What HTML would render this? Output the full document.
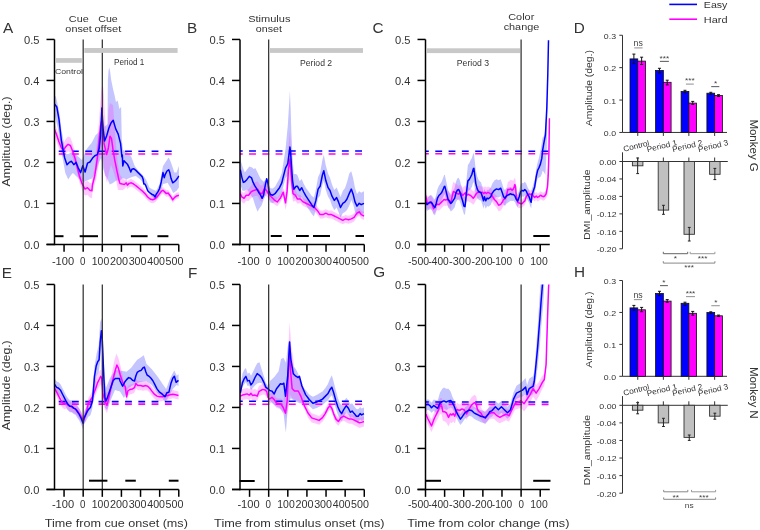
<!DOCTYPE html>
<html><head><meta charset="utf-8"><style>html,body{margin:0;padding:0;background:#fff;width:760px;height:530px;overflow:hidden} svg{will-change:transform}</style></head>
<body><svg width="760" height="530" viewBox="0 0 760 530" style="display:block">
<rect width="760" height="530" fill="#fff"/>
<g font-family='"Liberation Sans", sans-serif'>
<defs><clipPath id="clipA"><rect x="54.5" y="39.44999999999999" width="125" height="205"/></clipPath><clipPath id="clipB"><rect x="240.0" y="39.44999999999999" width="125" height="205"/></clipPath><clipPath id="clipC"><rect x="425.5" y="39.44999999999999" width="125" height="205"/></clipPath><clipPath id="clipE"><rect x="54.5" y="284.45" width="125" height="205"/></clipPath><clipPath id="clipF"><rect x="240.0" y="284.45" width="125" height="205"/></clipPath><clipPath id="clipG"><rect x="425.5" y="284.45" width="125" height="205"/></clipPath></defs>
<polygon points="54.50,95.70 55.90,96.50 56.80,100.53 57.80,105.00 59.00,111.32 59.70,115.00 61.30,128.33 61.50,130.00 63.10,138.42 63.40,140.00 64.70,149.58 65.30,154.00 67.00,154.00 68.20,154.00 69.20,153.57 71.00,152.81 71.50,152.60 72.90,152.00 73.80,152.77 76.00,154.64 77.60,156.00 78.30,156.64 80.00,158.18 80.60,158.73 82.00,160.00 82.80,158.00 84.00,155.00 85.10,152.25 86.00,150.00 87.50,148.00 88.00,147.33 89.00,146.00 89.90,144.93 91.70,142.80 92.40,141.42 94.80,136.68 95.50,135.30 97.30,133.50 99.20,131.60 99.30,131.50 100.50,128.70 100.80,128.00 101.20,117.33 101.70,104.00 101.90,107.11 102.60,118.00 103.00,119.80 104.60,127.00 105.00,126.59 106.60,124.93 107.00,124.52 107.50,124.00 107.90,80.00 108.60,70.00 108.90,68.93 109.30,67.50 109.80,70.00 110.20,72.00 111.00,78.40 111.20,80.00 113.00,88.73 113.20,89.70 114.50,95.00 115.70,100.76 116.00,102.20 116.40,101.80 117.70,100.50 118.10,102.50 119.40,109.00 120.00,108.19 120.60,107.38 121.10,106.70 121.80,140.00 121.90,140.83 122.30,144.17 122.80,148.33 123.00,150.00 124.00,150.50 125.70,151.35 126.80,151.90 127.00,152.00 127.40,152.45 129.10,154.34 130.80,156.24 131.30,156.80 131.90,158.41 133.60,162.96 134.70,165.90 135.90,167.49 138.10,170.40 140.40,172.70 142.10,174.40 142.60,174.90 143.20,175.69 143.80,176.49 144.90,177.94 146.00,179.40 147.70,183.40 149.40,187.40 151.70,188.89 152.80,189.60 154.00,190.02 155.10,190.41 156.20,190.80 157.90,187.40 159.60,184.00 161.30,174.95 163.00,165.90 164.20,164.13 165.30,162.50 167.00,159.95 167.60,159.05 168.70,157.40 169.80,159.84 171.00,162.50 172.70,167.55 173.20,169.04 174.40,172.60 176.10,172.60 176.60,172.60 177.80,169.10 178.90,165.90 178.90,187.40 177.80,189.03 176.60,190.80 176.10,191.12 174.40,192.22 173.20,193.00 172.70,191.98 171.00,188.50 169.80,186.49 168.70,184.64 167.60,182.80 167.00,182.96 165.30,183.40 164.20,183.69 163.00,184.00 161.30,189.65 159.60,195.30 157.90,197.55 156.20,199.80 155.10,199.25 154.00,198.70 152.80,197.53 151.70,196.45 149.40,194.20 147.70,190.76 146.00,187.32 144.90,185.10 143.80,183.71 143.20,182.95 142.60,182.19 142.10,181.55 140.40,179.40 138.10,177.66 135.90,176.00 134.70,176.31 133.60,176.60 131.90,177.04 131.30,177.20 130.80,177.44 129.10,178.28 127.40,179.11 127.00,179.30 126.80,179.40 125.70,179.06 124.00,178.53 123.00,178.22 122.80,178.16 122.30,178.00 121.90,178.52 121.80,178.65 121.10,179.57 120.60,180.22 120.00,181.00 119.40,180.90 118.10,180.68 117.70,180.62 116.40,180.40 116.00,180.71 115.70,180.94 114.50,181.85 113.20,182.85 113.00,183.00 111.20,183.79 111.00,183.88 110.20,184.22 109.80,184.40 109.30,183.26 108.90,182.34 108.60,181.66 107.90,180.06 107.50,179.14 107.00,178.00 106.60,177.40 105.00,175.00 104.60,173.60 103.00,168.00 102.60,165.78 101.90,161.89 101.70,160.78 101.20,158.00 100.80,158.78 100.50,159.36 99.30,161.70 99.20,162.00 97.30,167.65 95.50,173.00 94.80,174.05 92.40,177.65 91.70,178.70 89.90,179.33 89.00,179.65 88.00,180.00 87.50,180.25 86.00,181.00 85.10,181.45 84.00,182.00 82.80,181.40 82.00,181.00 80.60,180.30 80.00,180.00 78.30,178.30 77.60,177.60 76.00,176.00 73.80,173.87 72.90,173.00 71.50,174.47 71.00,175.00 69.20,177.96 68.20,179.60 67.00,176.87 65.30,173.00 64.70,169.68 63.40,162.50 63.10,160.84 61.50,152.00 61.30,150.69 59.70,140.18 59.00,135.58 57.80,127.70 56.80,123.70 55.90,120.10 54.50,114.50" fill="rgba(60,60,255,0.30)" stroke="none" clip-path="url(#clipA)"/>
<polygon points="54.50,123.60 56.80,128.88 59.00,135.18 61.30,140.57 63.60,142.64 65.80,139.02 68.10,136.49 70.40,137.58 72.60,143.62 74.90,150.88 77.20,160.44 79.40,169.88 81.70,176.57 84.00,180.87 85.00,182.33 87.50,180.70 89.90,182.88 91.90,183.11 92.40,177.65 94.80,167.53 96.00,150.00 97.30,140.12 98.00,134.80 98.50,128.20 99.00,121.60 99.50,115.00 100.20,105.00 100.50,100.50 101.00,93.00 101.70,88.10 101.90,86.70 102.00,86.00 102.60,84.60 102.90,86.06 103.00,86.54 103.30,88.00 104.00,97.00 104.10,99.28 104.50,108.40 105.00,115.65 105.30,120.00 105.90,134.80 106.60,138.11 107.00,140.00 108.30,114.00 108.50,110.00 109.00,107.67 110.00,103.00 111.00,103.67 111.50,104.00 113.00,105.00 113.20,107.67 114.50,125.00 114.90,130.33 116.00,145.00 116.90,154.00 118.00,165.00 119.30,171.50 120.00,175.00 122.30,177.69 124.50,180.07 126.20,178.82 127.40,181.14 129.10,179.48 131.30,178.92 133.60,180.16 136.40,182.41 139.30,184.77 142.10,187.12 144.90,189.97 147.70,193.42 150.60,195.78 152.80,196.32 155.10,195.26 157.40,193.01 159.60,190.25 161.90,187.49 163.00,186.91 164.70,188.64 166.40,190.37 168.10,189.81 169.80,192.14 171.50,194.47 172.70,196.69 174.40,194.52 176.60,192.86 178.90,192.30 178.90,198.30 176.60,198.94 174.40,200.68 172.70,202.91 171.50,200.73 169.80,198.46 168.10,196.19 166.40,196.83 164.70,195.16 163.00,193.49 161.90,194.11 159.60,196.95 157.40,199.79 155.10,202.14 152.80,203.28 150.60,202.82 147.70,200.58 144.90,197.23 142.10,194.48 139.30,192.23 136.40,189.99 133.60,187.84 131.30,186.68 129.10,187.32 127.40,189.06 126.20,186.78 124.50,188.93 122.30,190.31 120.00,190.00 119.30,190.00 118.00,190.00 116.90,184.50 116.00,180.00 114.90,176.33 114.50,175.00 113.20,170.67 113.00,170.00 111.50,166.25 111.00,165.00 110.00,168.50 109.00,172.00 108.50,174.75 108.30,175.85 107.00,183.00 106.60,181.40 105.90,178.60 105.30,176.20 105.00,175.00 104.50,171.25 104.10,168.25 104.00,167.50 103.30,162.25 103.00,160.00 102.90,158.85 102.60,155.38 102.00,148.46 101.90,147.31 101.70,145.00 101.00,147.92 100.50,150.00 100.20,152.25 99.50,157.50 99.00,161.25 98.50,165.00 98.00,168.00 97.30,172.20 96.00,180.00 94.80,183.47 92.40,192.95 91.90,198.29 89.90,197.52 87.50,194.70 85.00,195.67 84.00,193.93 81.70,189.03 79.40,182.06 77.20,173.28 74.90,164.41 72.60,157.84 70.40,152.46 68.10,151.30 65.80,153.60 63.60,157.00 61.30,154.70 59.00,148.82 56.80,141.72 54.50,135.60" fill="rgba(255,60,255,0.28)" stroke="none" clip-path="url(#clipA)"/>
<line x1="58.7" y1="151.3" x2="171.7" y2="151.3" stroke="#0000ff" stroke-width="1.6" stroke-dasharray="6.8 6.475" stroke-dashoffset="0"/>
<line x1="58.7" y1="154.0" x2="171.7" y2="154.0" stroke="#ff00ff" stroke-width="1.6" stroke-dasharray="6.8 6.475" stroke-dashoffset="0"/>
<polyline points="54.50,129.60 56.80,135.30 59.00,142.00 61.30,147.70 63.60,150.00 65.80,146.60 68.10,144.30 70.40,145.50 72.60,151.10 74.90,157.90 77.20,167.00 79.40,176.00 81.70,182.80 84.00,187.40 85.00,189.00 87.50,187.70 89.90,190.20 91.90,190.70 92.40,185.30 94.80,175.50 97.30,158.30 99.00,141.10 100.50,126.00 101.90,120.00 102.90,130.00 104.10,143.60 106.60,154.60 108.30,148.50 110.00,136.20 111.50,138.70 113.20,150.90 114.90,160.80 116.90,170.60 119.30,181.60 120.00,183.40 122.30,184.00 124.50,184.50 126.20,182.80 127.40,185.10 129.10,183.40 131.30,182.80 133.60,184.00 136.40,186.20 139.30,188.50 142.10,190.80 144.90,193.60 147.70,197.00 150.60,199.30 152.80,199.80 155.10,198.70 157.40,196.40 159.60,193.60 161.90,190.80 163.00,190.20 164.70,191.90 166.40,193.60 168.10,193.00 169.80,195.30 171.50,197.60 172.70,199.80 174.40,197.60 176.60,195.90 178.90,195.30" fill="none" stroke="#ff00ff" stroke-width="1.5" stroke-linejoin="round" clip-path="url(#clipA)"/>
<polyline points="54.50,104.00 56.80,107.00 59.00,119.40 61.30,139.80 63.10,150.00 64.70,158.00 67.00,164.70 69.20,162.40 71.50,161.30 73.80,164.70 76.00,162.40 78.30,168.00 80.60,172.60 82.80,165.80 85.10,172.00 87.50,163.20 89.90,162.00 92.40,158.30 94.80,155.80 97.30,154.60 99.20,148.50 100.50,136.20 101.90,108.00 103.00,128.00 104.60,141.00 106.60,136.00 108.90,128.00 111.00,123.00 113.20,120.30 115.70,128.90 118.10,133.80 120.60,143.60 121.90,157.00 122.30,155.00 122.80,165.90 124.00,160.80 125.70,162.50 127.40,164.20 129.10,167.60 130.80,172.10 131.90,169.30 133.60,168.70 135.90,170.40 138.10,172.60 140.40,174.90 142.10,176.60 143.20,179.40 143.80,184.00 144.90,184.00 146.00,186.20 147.70,190.80 149.40,192.50 151.70,194.20 154.00,195.30 155.10,197.00 156.20,194.20 157.90,191.90 159.60,188.50 161.30,181.70 163.00,172.60 164.20,177.70 165.30,174.30 167.00,171.00 168.70,169.80 169.80,172.60 171.00,178.30 172.70,182.80 174.40,181.70 176.10,180.00 177.80,177.70 178.90,176.00" fill="none" stroke="#0000ff" stroke-width="1.5" stroke-linejoin="round" clip-path="url(#clipA)"/>
<line x1="83.18" y1="39.44999999999999" x2="83.18" y2="244.45" stroke="#2a2a2a" stroke-width="1.2"/>
<line x1="102.30" y1="39.44999999999999" x2="102.30" y2="244.45" stroke="#2a2a2a" stroke-width="1.2"/>
<line x1="54.5" y1="39.44999999999999" x2="54.5" y2="245.14999999999998" stroke="#000" stroke-width="1.5"/>
<line x1="46.5" y1="244.45" x2="178.78" y2="244.45" stroke="#000" stroke-width="1.5"/>
<line x1="46.5" y1="244.45" x2="54.5" y2="244.45" stroke="#000" stroke-width="1.5"/>
<text x="23.96" y="248.75" font-size="10" fill="#333" textLength="15.43" lengthAdjust="spacingAndGlyphs">0.0</text>
<line x1="46.5" y1="203.45" x2="54.5" y2="203.45" stroke="#000" stroke-width="1.5"/>
<text x="23.95" y="207.75" font-size="10" fill="#333" textLength="15.55" lengthAdjust="spacingAndGlyphs">0.1</text>
<line x1="46.5" y1="162.45" x2="54.5" y2="162.45" stroke="#000" stroke-width="1.5"/>
<text x="23.95" y="166.75" font-size="10" fill="#333" textLength="15.61" lengthAdjust="spacingAndGlyphs">0.2</text>
<line x1="46.5" y1="121.44999999999999" x2="54.5" y2="121.44999999999999" stroke="#000" stroke-width="1.5"/>
<text x="23.95" y="125.75" font-size="10" fill="#333" textLength="15.49" lengthAdjust="spacingAndGlyphs">0.3</text>
<line x1="46.5" y1="80.44999999999999" x2="54.5" y2="80.44999999999999" stroke="#000" stroke-width="1.5"/>
<text x="23.96" y="84.75" font-size="10" fill="#333" textLength="15.38" lengthAdjust="spacingAndGlyphs">0.4</text>
<line x1="46.5" y1="39.44999999999999" x2="54.5" y2="39.44999999999999" stroke="#000" stroke-width="1.5"/>
<text x="23.95" y="43.75" font-size="10" fill="#333" textLength="15.49" lengthAdjust="spacingAndGlyphs">0.5</text>
<line x1="64.06" y1="244.45" x2="64.06" y2="251.85" stroke="#000" stroke-width="1.5"/>
<line x1="83.18" y1="244.45" x2="83.18" y2="251.85" stroke="#000" stroke-width="1.5"/>
<line x1="102.30" y1="244.45" x2="102.30" y2="251.85" stroke="#000" stroke-width="1.5"/>
<line x1="121.42" y1="244.45" x2="121.42" y2="251.85" stroke="#000" stroke-width="1.5"/>
<line x1="140.54" y1="244.45" x2="140.54" y2="251.85" stroke="#000" stroke-width="1.5"/>
<line x1="159.66" y1="244.45" x2="159.66" y2="251.85" stroke="#000" stroke-width="1.5"/>
<line x1="178.78" y1="244.45" x2="178.78" y2="251.85" stroke="#000" stroke-width="1.5"/>
<text x="51.90" y="264.60" font-size="10" fill="#333" textLength="22.20" lengthAdjust="spacingAndGlyphs">-100</text>
<text x="80.01" y="264.60" font-size="10" fill="#333" textLength="5.45" lengthAdjust="spacingAndGlyphs">0</text>
<text x="91.82" y="264.60" font-size="10" fill="#333" textLength="17.38" lengthAdjust="spacingAndGlyphs">100</text>
<text x="110.06" y="264.60" font-size="10" fill="#333" textLength="18.06" lengthAdjust="spacingAndGlyphs">200</text>
<text x="128.67" y="264.60" font-size="10" fill="#333" textLength="17.84" lengthAdjust="spacingAndGlyphs">300</text>
<text x="147.29" y="264.60" font-size="10" fill="#333" textLength="17.72" lengthAdjust="spacingAndGlyphs">400</text>
<text x="165.57" y="264.60" font-size="10" fill="#333" textLength="17.84" lengthAdjust="spacingAndGlyphs">500</text>
<line x1="54.5" y1="236.2" x2="63.5" y2="236.2" stroke="#000" stroke-width="2.0"/>
<line x1="79.7" y1="236.2" x2="98" y2="236.2" stroke="#000" stroke-width="2.0"/>
<line x1="130.9" y1="236.2" x2="147.6" y2="236.2" stroke="#000" stroke-width="2.0"/>
<line x1="157.4" y1="236.2" x2="168.4" y2="236.2" stroke="#000" stroke-width="2.0"/>
<polygon points="240.30,159.00 241.80,164.18 242.50,166.60 243.30,168.69 244.80,172.60 247.00,169.60 249.30,166.60 250.00,166.81 251.60,167.30 253.00,168.32 253.10,168.39 253.80,168.90 254.60,168.47 255.30,168.10 256.90,171.23 257.60,172.60 259.10,175.65 260.60,178.70 261.40,179.50 262.10,180.20 263.60,181.70 265.10,180.25 265.90,179.47 266.70,178.70 267.90,179.90 268.20,180.20 268.90,184.57 270.40,188.16 272.70,188.53 275.00,186.70 277.20,182.76 279.50,178.77 281.70,173.33 283.20,164.10 285.50,149.35 287.80,125.60 289.30,101.05 289.90,91.00 290.60,107.38 291.40,133.37 292.50,156.40 293.80,173.92 296.10,173.95 297.50,175.22 299.70,181.25 301.70,179.04 303.70,183.74 306.00,188.06 308.80,191.86 311.60,195.76 313.90,197.55 315.90,189.45 318.10,177.03 320.10,172.85 322.40,159.97 323.80,154.70 325.80,165.55 328.10,173.76 330.00,177.64 332.00,184.49 334.30,190.00 336.60,187.60 338.50,191.90 340.50,197.10 342.80,191.06 345.00,187.90 347.00,182.21 349.30,173.40 351.30,171.26 353.30,179.10 355.00,187.90 357.00,194.10 359.20,191.30 361.20,192.70 364.00,191.30 364.00,213.30 361.20,214.70 359.20,213.30 357.00,216.10 355.00,211.90 353.30,204.80 351.30,200.02 349.30,205.40 347.00,209.93 345.00,211.90 342.80,213.30 340.50,217.50 338.50,211.90 336.60,207.60 334.30,210.30 332.00,205.77 330.00,199.79 328.10,196.71 325.80,190.12 323.80,180.70 322.40,184.76 320.10,195.66 318.10,198.12 315.90,209.40 313.90,216.50 311.60,213.70 308.80,209.40 306.00,205.20 303.70,201.00 301.70,196.70 299.70,199.55 297.50,195.72 296.10,195.85 293.80,199.36 292.50,191.20 291.40,177.13 290.60,165.12 289.90,161.00 289.30,165.37 287.80,175.40 285.50,178.10 283.20,187.10 281.70,193.11 279.50,196.99 277.20,199.33 275.00,201.70 272.70,203.20 270.40,202.50 268.90,198.70 268.20,189.20 267.90,189.98 266.70,193.11 265.90,195.20 265.10,196.80 263.60,199.80 262.10,203.89 261.40,205.80 260.60,206.84 259.10,208.80 257.60,211.80 256.90,209.97 255.30,205.80 254.60,203.52 253.80,200.91 253.10,198.63 253.00,198.30 251.60,196.15 250.00,193.70 249.30,192.65 247.00,189.20 244.80,190.70 243.30,190.70 242.50,190.70 241.80,188.79 240.30,184.70" fill="rgba(60,60,255,0.30)" stroke="none" clip-path="url(#clipB)"/>
<polygon points="240.30,188.70 241.80,191.65 244.00,192.92 246.30,189.58 248.60,189.34 250.80,185.88 253.10,183.46 255.30,182.00 257.60,181.20 259.90,185.00 262.10,185.75 264.40,181.70 266.70,185.05 268.20,188.71 271.20,192.03 274.20,195.24 277.20,197.66 280.20,194.17 283.20,188.20 285.50,192.80 287.00,175.20 288.50,146.10 290.00,131.00 291.50,162.70 293.00,183.70 295.30,189.63 297.50,194.17 300.30,195.00 303.10,197.90 306.00,199.30 308.80,200.70 311.60,202.10 314.50,203.50 317.30,206.40 320.10,210.60 323.00,210.60 325.80,209.20 328.60,210.60 331.50,210.60 334.30,212.00 337.10,213.40 340.00,214.90 342.80,216.30 345.60,214.90 348.50,215.70 351.30,214.90 354.10,213.40 356.90,209.20 359.20,207.80 361.20,210.60 364.00,212.00 364.00,220.00 361.20,218.60 359.20,215.80 356.90,217.20 354.10,221.40 351.30,222.90 348.50,223.70 345.60,222.90 342.80,224.30 340.00,222.90 337.10,221.40 334.30,220.00 331.50,218.60 328.60,218.60 325.80,217.20 323.00,218.60 320.10,218.60 317.30,214.40 314.50,211.50 311.60,210.10 308.80,208.70 306.00,207.30 303.10,205.90 300.30,203.00 297.50,203.83 295.30,200.77 293.00,201.70 291.50,192.70 290.00,179.00 288.50,185.10 287.00,203.20 285.50,209.80 283.20,196.20 280.20,202.43 277.20,206.34 274.20,204.36 271.20,201.57 268.20,198.69 266.70,196.35 264.40,195.30 262.10,201.65 259.90,200.40 257.60,195.94 255.30,196.09 253.10,196.70 250.80,198.20 248.60,201.06 246.30,200.82 244.00,203.68 241.80,201.95 240.30,198.70" fill="rgba(255,60,255,0.28)" stroke="none" clip-path="url(#clipB)"/>
<line x1="240.0" y1="151.0" x2="364.0" y2="151.0" stroke="#0000ff" stroke-width="1.6" stroke-dasharray="6.9 6.36" stroke-dashoffset="4.2"/>
<line x1="240.0" y1="154.0" x2="364.0" y2="154.0" stroke="#ff00ff" stroke-width="1.6" stroke-dasharray="6.9 6.36" stroke-dashoffset="4.2"/>
<polyline points="240.30,193.70 241.80,196.80 244.00,198.30 246.30,195.20 248.60,195.20 250.80,192.20 253.10,190.70 255.30,190.00 257.60,189.20 259.90,193.00 262.10,193.70 264.40,188.50 266.70,190.70 268.20,193.70 271.20,196.80 274.20,199.80 277.20,202.00 280.20,198.30 283.20,192.20 285.50,202.80 287.00,192.20 288.50,169.60 290.00,159.00 291.50,180.20 293.00,193.70 295.30,195.20 297.50,199.00 300.30,199.00 303.10,201.90 306.00,203.30 308.80,204.70 311.60,206.10 314.50,207.50 317.30,210.40 320.10,214.60 323.00,214.60 325.80,213.20 328.60,214.60 331.50,214.60 334.30,216.00 337.10,217.40 340.00,218.90 342.80,220.30 345.60,218.90 348.50,219.70 351.30,218.90 354.10,217.40 356.90,213.20 359.20,211.80 361.20,214.60 364.00,216.00" fill="none" stroke="#ff00ff" stroke-width="1.5" stroke-linejoin="round" clip-path="url(#clipB)"/>
<polyline points="240.30,169.60 241.80,177.10 243.30,182.40 244.80,181.70 247.00,179.40 249.30,176.40 251.60,177.90 253.10,182.40 254.60,185.40 256.90,189.20 259.10,193.00 260.60,195.20 262.10,198.30 263.60,195.20 265.10,186.20 266.70,178.70 267.90,183.20 268.90,190.70 270.40,194.50 272.70,195.20 275.00,193.70 277.20,190.70 279.50,187.70 281.70,183.20 283.20,177.10 285.50,168.10 287.80,163.60 289.30,152.00 289.90,147.00 290.60,152.00 291.40,165.00 292.50,180.00 293.80,189.20 296.10,186.20 297.50,186.30 299.70,190.50 301.70,187.70 303.70,192.00 306.00,196.20 308.80,200.40 311.60,204.70 313.90,207.50 315.90,200.40 318.10,189.10 320.10,186.30 322.40,175.00 323.80,170.70 325.80,180.60 328.10,187.70 330.00,190.50 332.00,196.20 334.30,200.40 336.60,197.60 338.50,201.90 340.50,207.50 342.80,203.30 345.00,201.90 347.00,199.00 349.30,193.40 351.30,189.10 353.30,194.80 355.00,201.90 357.00,206.10 359.20,203.30 361.20,204.70 364.00,203.30" fill="none" stroke="#0000ff" stroke-width="1.5" stroke-linejoin="round" clip-path="url(#clipB)"/>
<line x1="268.68" y1="39.44999999999999" x2="268.68" y2="244.45" stroke="#2a2a2a" stroke-width="1.2"/>
<line x1="240.0" y1="39.44999999999999" x2="240.0" y2="245.14999999999998" stroke="#000" stroke-width="1.5"/>
<line x1="232.0" y1="244.45" x2="364.28" y2="244.45" stroke="#000" stroke-width="1.5"/>
<line x1="232.0" y1="244.45" x2="240.0" y2="244.45" stroke="#000" stroke-width="1.5"/>
<text x="209.46" y="248.75" font-size="10" fill="#333" textLength="15.43" lengthAdjust="spacingAndGlyphs">0.0</text>
<line x1="232.0" y1="203.45" x2="240.0" y2="203.45" stroke="#000" stroke-width="1.5"/>
<text x="209.45" y="207.75" font-size="10" fill="#333" textLength="15.55" lengthAdjust="spacingAndGlyphs">0.1</text>
<line x1="232.0" y1="162.45" x2="240.0" y2="162.45" stroke="#000" stroke-width="1.5"/>
<text x="209.45" y="166.75" font-size="10" fill="#333" textLength="15.61" lengthAdjust="spacingAndGlyphs">0.2</text>
<line x1="232.0" y1="121.44999999999999" x2="240.0" y2="121.44999999999999" stroke="#000" stroke-width="1.5"/>
<text x="209.45" y="125.75" font-size="10" fill="#333" textLength="15.49" lengthAdjust="spacingAndGlyphs">0.3</text>
<line x1="232.0" y1="80.44999999999999" x2="240.0" y2="80.44999999999999" stroke="#000" stroke-width="1.5"/>
<text x="209.46" y="84.75" font-size="10" fill="#333" textLength="15.38" lengthAdjust="spacingAndGlyphs">0.4</text>
<line x1="232.0" y1="39.44999999999999" x2="240.0" y2="39.44999999999999" stroke="#000" stroke-width="1.5"/>
<text x="209.45" y="43.75" font-size="10" fill="#333" textLength="15.49" lengthAdjust="spacingAndGlyphs">0.5</text>
<line x1="249.56" y1="244.45" x2="249.56" y2="251.85" stroke="#000" stroke-width="1.5"/>
<line x1="268.68" y1="244.45" x2="268.68" y2="251.85" stroke="#000" stroke-width="1.5"/>
<line x1="287.80" y1="244.45" x2="287.80" y2="251.85" stroke="#000" stroke-width="1.5"/>
<line x1="306.92" y1="244.45" x2="306.92" y2="251.85" stroke="#000" stroke-width="1.5"/>
<line x1="326.04" y1="244.45" x2="326.04" y2="251.85" stroke="#000" stroke-width="1.5"/>
<line x1="345.16" y1="244.45" x2="345.16" y2="251.85" stroke="#000" stroke-width="1.5"/>
<line x1="364.28" y1="244.45" x2="364.28" y2="251.85" stroke="#000" stroke-width="1.5"/>
<text x="237.40" y="264.60" font-size="10" fill="#333" textLength="22.20" lengthAdjust="spacingAndGlyphs">-100</text>
<text x="265.51" y="264.60" font-size="10" fill="#333" textLength="5.45" lengthAdjust="spacingAndGlyphs">0</text>
<text x="277.32" y="264.60" font-size="10" fill="#333" textLength="17.38" lengthAdjust="spacingAndGlyphs">100</text>
<text x="295.56" y="264.60" font-size="10" fill="#333" textLength="18.06" lengthAdjust="spacingAndGlyphs">200</text>
<text x="314.17" y="264.60" font-size="10" fill="#333" textLength="17.84" lengthAdjust="spacingAndGlyphs">300</text>
<text x="332.79" y="264.60" font-size="10" fill="#333" textLength="17.72" lengthAdjust="spacingAndGlyphs">400</text>
<text x="351.07" y="264.60" font-size="10" fill="#333" textLength="17.84" lengthAdjust="spacingAndGlyphs">500</text>
<line x1="270.8" y1="236.0" x2="281.7" y2="236.0" stroke="#000" stroke-width="2.0"/>
<line x1="296" y1="236.0" x2="308.8" y2="236.0" stroke="#000" stroke-width="2.0"/>
<line x1="313" y1="236.0" x2="330" y2="236.0" stroke="#000" stroke-width="2.0"/>
<line x1="355.5" y1="236.0" x2="364" y2="236.0" stroke="#000" stroke-width="2.0"/>
<polygon points="425.60,196.10 427.00,198.40 428.30,196.83 429.60,195.85 430.90,194.97 432.20,196.00 433.60,198.30 434.90,199.42 436.20,194.87 437.50,188.99 438.90,185.77 440.20,183.89 441.50,181.91 442.80,178.73 444.10,174.97 444.80,174.73 445.50,177.90 446.80,184.07 448.10,190.13 449.40,192.40 450.70,195.05 452.10,193.05 453.40,190.40 454.70,187.75 456.00,181.80 457.30,178.55 458.70,177.70 460.00,180.77 461.30,185.74 462.60,190.11 463.90,195.69 465.00,196.70 465.90,186.30 466.90,175.10 467.90,165.10 469.20,163.20 470.60,160.13 471.90,157.90 473.20,153.57 473.90,153.33 474.80,161.30 475.80,169.95 477.20,176.30 478.50,179.79 479.80,181.23 481.10,182.57 482.40,187.31 483.50,191.94 484.40,188.46 485.70,192.66 487.10,189.68 488.40,190.12 490.80,187.54 492.20,183.66 494.40,180.42 496.50,179.20 498.60,180.32 500.70,179.34 502.20,183.84 503.60,188.42 505.00,190.10 506.40,188.28 507.80,187.76 509.20,187.34 510.70,186.94 512.10,187.92 513.50,188.20 514.90,189.98 516.30,193.24 517.70,194.36 519.20,189.86 520.60,184.58 522.00,182.90 523.40,183.32 524.80,181.64 526.20,183.40 527.70,187.40 529.10,190.07 530.50,194.73 531.20,196.24 531.90,188.94 533.30,184.34 534.70,179.64 536.20,169.31 537.60,162.61 539.00,157.60 540.40,151.30 541.80,142.80 542.50,137.80 543.90,136.30 545.40,130.00 546.80,104.20 547.80,72.20 548.50,39.20 548.50,41.20 547.80,84.20 546.80,148.20 545.40,175.00 543.90,172.10 542.50,170.80 541.80,174.00 540.40,176.90 539.00,177.60 537.60,178.39 536.20,184.29 534.70,193.76 533.30,197.66 531.90,201.46 531.20,208.36 530.50,206.90 529.10,202.70 527.70,200.50 526.20,197.00 524.80,195.60 523.40,197.00 522.00,196.30 520.60,197.70 519.20,202.70 517.70,206.90 516.30,205.50 514.90,202.02 513.50,200.80 512.10,201.08 510.70,200.66 509.20,201.66 507.80,202.64 506.40,203.72 505.00,206.10 503.60,204.70 502.20,200.40 500.70,196.20 498.60,197.60 496.50,196.90 494.40,198.30 492.20,201.10 490.80,204.70 488.40,206.80 487.10,206.10 485.70,208.80 484.40,204.80 483.50,208.80 482.40,204.80 481.10,200.80 479.80,200.20 478.50,199.50 477.20,198.10 475.80,194.90 474.80,188.50 473.90,182.33 473.20,182.57 471.90,186.90 470.60,188.73 469.20,190.40 467.90,190.83 466.90,198.17 465.90,206.70 465.00,214.70 463.90,214.31 462.60,209.49 461.30,205.86 460.00,201.63 458.70,199.30 457.30,200.02 456.00,202.30 454.70,207.27 453.40,208.95 452.10,210.62 450.70,211.57 449.40,208.80 448.10,207.40 446.80,202.20 445.50,196.90 444.80,194.20 444.10,194.90 442.80,198.20 441.50,200.80 440.20,202.20 438.90,203.50 437.50,206.10 436.20,211.40 434.90,215.38 433.60,213.70 432.20,210.80 430.90,209.23 429.60,209.55 428.30,209.97 427.00,211.00 425.60,208.10" fill="rgba(60,60,255,0.30)" stroke="none" clip-path="url(#clipC)"/>
<polygon points="425.60,189.50 427.00,195.91 428.30,197.03 429.60,195.54 430.90,195.36 432.20,197.78 433.60,201.59 434.90,199.41 436.20,197.23 437.50,196.45 438.90,196.85 440.20,195.37 441.50,193.85 442.80,192.33 444.10,190.72 445.50,191.18 446.80,190.27 448.10,190.75 449.40,192.53 450.70,193.62 452.10,186.83 453.40,181.85 454.70,182.88 456.00,183.80 457.30,184.82 458.70,185.88 460.00,184.80 461.30,185.63 462.60,187.76 463.90,186.59 465.30,185.33 466.60,188.16 467.90,186.99 469.20,187.72 470.60,188.56 471.90,189.99 473.20,191.42 474.50,190.25 475.80,187.78 477.20,186.52 478.50,186.05 479.80,185.48 481.10,186.80 482.40,186.20 483.80,187.50 485.10,186.20 486.40,187.50 488.00,186.40 489.40,187.10 490.80,187.80 492.20,190.00 494.40,193.50 496.50,195.60 498.60,199.20 500.70,198.40 502.20,196.30 503.60,193.50 505.00,192.80 506.40,189.20 507.80,182.00 509.20,181.20 510.70,179.64 512.10,180.40 513.50,180.40 514.90,177.50 515.60,180.30 516.30,190.80 517.70,196.87 519.20,198.07 520.60,199.23 522.00,199.70 523.40,198.30 524.80,196.90 526.20,192.70 527.70,190.50 529.10,189.80 530.50,190.50 531.90,189.80 533.30,192.00 534.70,193.40 536.20,192.00 537.60,193.40 539.00,192.70 540.40,191.20 541.80,192.00 543.20,192.70 544.70,192.00 546.10,189.47 547.50,177.70 548.20,164.07 548.90,140.53 549.20,125.80 549.50,116.30 549.50,120.30 549.20,144.20 548.90,167.87 548.20,186.73 547.50,195.70 546.10,198.13 544.70,200.00 543.20,200.70 541.80,200.00 540.40,199.20 539.00,200.70 537.60,201.40 536.20,200.00 534.70,201.40 533.30,200.00 531.90,197.80 530.50,198.50 529.10,197.80 527.70,198.50 526.20,200.70 524.80,204.90 523.40,206.30 522.00,207.70 520.60,208.17 519.20,207.93 517.70,207.73 516.30,202.60 515.60,192.70 514.90,190.60 513.50,194.90 512.10,196.30 510.70,194.90 509.20,195.60 507.80,195.60 506.40,202.00 505.00,204.80 503.60,205.50 502.20,208.30 500.70,210.40 498.60,211.20 496.50,207.60 494.40,205.50 492.20,202.00 490.80,199.80 489.40,199.10 488.00,198.40 486.40,199.50 485.10,198.20 483.80,199.50 482.40,198.20 481.10,198.80 479.80,197.52 478.50,198.35 477.20,199.08 475.80,200.62 474.50,203.35 473.20,204.78 471.90,203.61 470.60,202.44 469.20,201.72 467.90,200.99 466.60,202.16 465.30,199.33 463.90,200.59 462.60,201.76 461.30,199.63 460.00,198.80 458.70,200.20 457.30,199.50 456.00,198.80 454.70,198.20 453.40,197.50 452.10,202.80 450.70,209.40 449.40,208.10 448.10,206.10 446.80,205.40 445.50,206.10 444.10,205.40 442.80,206.80 441.50,208.10 440.20,209.40 438.90,210.70 437.50,210.10 436.20,210.70 434.90,212.70 433.60,214.70 432.20,210.70 430.90,208.10 429.60,208.10 428.30,209.40 427.00,208.10 425.60,201.50" fill="rgba(255,60,255,0.28)" stroke="none" clip-path="url(#clipC)"/>
<line x1="425.5" y1="151.2" x2="548.5" y2="151.2" stroke="#0000ff" stroke-width="1.6" stroke-dasharray="6.8 6.5" stroke-dashoffset="3.5"/>
<line x1="425.5" y1="153.8" x2="548.5" y2="153.8" stroke="#ff00ff" stroke-width="1.6" stroke-dasharray="6.8 6.5" stroke-dashoffset="3.5"/>
<polyline points="425.60,195.50 427.00,202.10 428.30,203.40 429.60,202.10 430.90,202.10 432.20,204.70 433.60,208.70 434.90,206.70 436.20,204.70 437.50,204.10 438.90,204.70 440.20,203.40 441.50,202.10 442.80,200.80 444.10,199.40 445.50,200.10 446.80,199.40 448.10,200.10 449.40,202.10 450.70,203.40 452.10,196.80 453.40,191.50 454.70,192.20 456.00,192.80 457.30,193.50 458.70,194.20 460.00,192.80 461.30,193.50 462.60,195.50 463.90,194.20 465.30,192.80 466.60,195.50 467.90,194.20 469.20,194.80 470.60,195.50 471.90,196.80 473.20,198.10 474.50,196.80 475.80,194.20 477.20,192.80 478.50,192.20 479.80,191.50 481.10,192.80 482.40,192.20 483.80,193.50 485.10,192.20 486.40,193.50 488.00,192.40 489.40,193.10 490.80,193.80 492.20,196.00 494.40,199.50 496.50,201.60 498.60,205.20 500.70,204.40 502.20,202.30 503.60,199.50 505.00,198.80 506.40,196.00 507.80,189.60 509.20,189.60 510.70,188.90 512.10,190.30 513.50,188.90 514.90,184.60 515.60,186.70 516.30,196.70 517.70,202.30 519.20,203.00 520.60,203.70 522.00,203.70 523.40,202.30 524.80,200.90 526.20,196.70 527.70,194.50 529.10,193.80 530.50,194.50 531.90,193.80 533.30,196.00 534.70,197.40 536.20,196.00 537.60,197.40 539.00,196.70 540.40,195.20 541.80,196.00 543.20,196.70 544.70,196.00 546.10,193.80 547.50,186.70 548.20,175.40 548.90,154.20 549.20,135.00 549.50,118.30" fill="none" stroke="#ff00ff" stroke-width="1.5" stroke-linejoin="round" clip-path="url(#clipC)"/>
<polyline points="425.60,202.10 427.00,204.70 428.30,203.40 429.60,202.70 430.90,202.10 432.20,203.40 433.60,206.00 434.90,207.40 436.20,203.40 437.50,198.10 438.90,195.50 440.20,194.20 441.50,192.80 442.80,190.20 444.10,186.90 444.80,186.20 445.50,188.90 446.80,194.20 448.10,199.40 449.40,200.80 450.70,203.40 452.10,202.10 453.40,200.10 454.70,198.10 456.00,192.80 457.30,190.20 458.70,189.50 460.00,192.20 461.30,196.80 462.60,200.80 463.90,206.00 465.00,206.70 465.90,198.10 466.90,188.90 467.90,180.90 469.20,179.60 470.60,177.00 471.90,174.30 473.20,169.10 473.90,168.40 474.80,175.70 475.80,183.60 477.20,188.90 478.50,191.50 479.80,192.20 481.10,192.80 482.40,196.80 483.50,200.80 484.40,196.80 485.70,200.80 487.10,198.10 488.40,198.80 490.80,196.70 492.20,193.10 494.40,190.30 496.50,188.90 498.60,189.60 500.70,188.20 502.20,192.40 503.60,196.70 505.00,198.10 506.40,196.00 507.80,195.20 509.20,194.50 510.70,193.80 512.10,194.50 513.50,194.50 514.90,196.00 516.30,199.50 517.70,200.90 519.20,196.70 520.60,191.70 522.00,190.30 523.40,191.00 524.80,189.60 526.20,191.00 527.70,194.50 529.10,196.70 530.50,200.90 531.20,202.30 531.90,195.20 533.30,191.00 534.70,186.70 536.20,176.80 537.60,170.50 539.00,167.60 540.40,164.10 541.80,158.40 542.50,151.30 543.90,142.80 545.40,135.00 546.80,108.20 547.80,74.20 548.50,40.20" fill="none" stroke="#0000ff" stroke-width="1.5" stroke-linejoin="round" clip-path="url(#clipC)"/>
<line x1="521.10" y1="39.44999999999999" x2="521.10" y2="244.45" stroke="#2a2a2a" stroke-width="1.2"/>
<line x1="425.5" y1="39.44999999999999" x2="425.5" y2="245.14999999999998" stroke="#000" stroke-width="1.5"/>
<line x1="417.5" y1="244.45" x2="549.78" y2="244.45" stroke="#000" stroke-width="1.5"/>
<line x1="417.5" y1="244.45" x2="425.5" y2="244.45" stroke="#000" stroke-width="1.5"/>
<text x="394.96" y="248.75" font-size="10" fill="#333" textLength="15.43" lengthAdjust="spacingAndGlyphs">0.0</text>
<line x1="417.5" y1="203.45" x2="425.5" y2="203.45" stroke="#000" stroke-width="1.5"/>
<text x="394.95" y="207.75" font-size="10" fill="#333" textLength="15.55" lengthAdjust="spacingAndGlyphs">0.1</text>
<line x1="417.5" y1="162.45" x2="425.5" y2="162.45" stroke="#000" stroke-width="1.5"/>
<text x="394.95" y="166.75" font-size="10" fill="#333" textLength="15.61" lengthAdjust="spacingAndGlyphs">0.2</text>
<line x1="417.5" y1="121.44999999999999" x2="425.5" y2="121.44999999999999" stroke="#000" stroke-width="1.5"/>
<text x="394.95" y="125.75" font-size="10" fill="#333" textLength="15.49" lengthAdjust="spacingAndGlyphs">0.3</text>
<line x1="417.5" y1="80.44999999999999" x2="425.5" y2="80.44999999999999" stroke="#000" stroke-width="1.5"/>
<text x="394.96" y="84.75" font-size="10" fill="#333" textLength="15.38" lengthAdjust="spacingAndGlyphs">0.4</text>
<line x1="417.5" y1="39.44999999999999" x2="425.5" y2="39.44999999999999" stroke="#000" stroke-width="1.5"/>
<text x="394.95" y="43.75" font-size="10" fill="#333" textLength="15.49" lengthAdjust="spacingAndGlyphs">0.5</text>
<line x1="425.50" y1="244.45" x2="425.50" y2="251.85" stroke="#000" stroke-width="1.5"/>
<line x1="444.62" y1="244.45" x2="444.62" y2="251.85" stroke="#000" stroke-width="1.5"/>
<line x1="463.74" y1="244.45" x2="463.74" y2="251.85" stroke="#000" stroke-width="1.5"/>
<line x1="482.86" y1="244.45" x2="482.86" y2="251.85" stroke="#000" stroke-width="1.5"/>
<line x1="501.98" y1="244.45" x2="501.98" y2="251.85" stroke="#000" stroke-width="1.5"/>
<line x1="521.10" y1="244.45" x2="521.10" y2="251.85" stroke="#000" stroke-width="1.5"/>
<line x1="540.22" y1="244.45" x2="540.22" y2="251.85" stroke="#000" stroke-width="1.5"/>
<text x="408.13" y="264.60" font-size="10" fill="#333" textLength="20.95" lengthAdjust="spacingAndGlyphs">-500</text>
<text x="428.44" y="264.60" font-size="10" fill="#333" textLength="20.33" lengthAdjust="spacingAndGlyphs">-400</text>
<text x="449.11" y="264.60" font-size="10" fill="#333" textLength="21.89" lengthAdjust="spacingAndGlyphs">-300</text>
<text x="471.53" y="264.60" font-size="10" fill="#333" textLength="20.95" lengthAdjust="spacingAndGlyphs">-200</text>
<text x="491.84" y="264.60" font-size="10" fill="#333" textLength="20.33" lengthAdjust="spacingAndGlyphs">-100</text>
<text x="518.46" y="264.60" font-size="10" fill="#333" textLength="5.45" lengthAdjust="spacingAndGlyphs">0</text>
<text x="530.32" y="264.60" font-size="10" fill="#333" textLength="17.38" lengthAdjust="spacingAndGlyphs">100</text>
<line x1="533.3" y1="236.0" x2="549.7" y2="236.0" stroke="#000" stroke-width="2.0"/>
<polygon points="54.60,378.50 56.70,381.40 58.60,382.30 60.50,384.20 62.40,388.00 64.30,391.70 66.20,395.50 68.00,398.30 69.90,400.20 71.80,400.20 73.70,402.10 75.60,403.10 77.50,405.90 79.40,408.70 81.20,412.50 83.10,417.18 84.10,411.66 86.20,406.99 88.30,402.42 90.40,399.86 92.00,395.00 92.40,390.36 93.50,377.60 94.50,366.00 96.20,355.96 96.60,353.60 97.60,349.65 98.70,345.30 99.10,338.76 100.10,322.40 101.40,318.30 102.00,322.02 102.40,324.50 102.80,338.00 103.20,351.50 103.90,364.15 104.50,375.00 104.90,378.47 105.90,387.13 106.00,388.00 107.00,385.50 107.60,384.00 109.00,380.50 110.00,378.00 111.10,376.24 113.20,372.88 115.00,370.00 115.30,370.02 117.30,370.18 119.40,370.35 120.00,370.40 122.60,370.91 124.00,371.19 124.60,371.31 126.60,371.70 127.90,370.61 128.60,370.02 130.60,368.34 131.00,368.00 132.50,366.02 133.20,365.09 134.50,363.37 135.90,361.52 137.20,359.80 139.20,358.47 139.80,358.07 141.10,357.20 143.10,355.72 143.80,355.20 144.40,357.18 145.80,361.82 146.40,363.80 147.10,364.50 149.10,366.50 151.00,368.40 151.70,369.10 153.00,370.72 155.00,373.21 157.00,375.70 159.60,379.58 162.30,383.60 164.90,387.13 166.20,388.90 166.90,387.04 168.90,381.74 170.20,378.30 170.90,376.92 172.80,373.16 174.20,370.40 174.40,370.81 176.10,374.27 176.80,375.70 178.50,374.00 178.50,386.00 176.80,384.90 176.10,385.60 174.40,387.30 174.20,387.50 172.80,388.90 170.90,392.75 170.20,394.17 168.90,396.80 166.90,399.45 166.20,400.38 164.90,402.10 162.30,398.10 159.60,395.40 157.00,392.80 155.00,389.82 153.00,386.84 151.70,384.90 151.00,384.38 149.10,382.99 147.10,381.52 146.40,381.00 145.80,381.12 144.40,381.39 143.80,381.51 143.10,381.65 141.10,382.04 139.80,382.30 139.20,382.54 137.20,383.32 135.90,383.84 134.50,384.39 133.20,384.90 132.50,385.43 131.00,386.56 130.60,386.86 128.60,388.37 127.90,388.90 126.60,391.97 124.60,396.68 124.00,398.10 122.60,395.79 120.00,391.50 119.40,391.32 117.30,390.69 115.30,390.09 115.00,390.00 113.20,394.32 111.10,399.36 110.00,402.00 109.00,404.67 107.60,408.40 107.00,410.00 106.00,408.81 105.90,408.69 104.90,407.50 104.50,403.10 103.90,396.50 103.20,388.80 102.80,375.35 102.40,361.90 102.00,355.26 101.40,345.30 100.10,361.90 99.10,369.26 98.70,372.20 97.60,374.40 96.60,376.40 96.20,379.56 94.50,393.00 93.50,399.80 92.40,407.28 92.00,410.00 90.40,415.14 88.30,416.78 86.20,420.41 84.10,424.14 83.10,429.22 81.20,424.50 79.40,420.70 77.50,417.90 75.60,415.10 73.70,414.10 71.80,412.20 69.90,412.20 68.00,410.30 66.20,407.50 64.30,403.70 62.40,400.00 60.50,396.20 58.60,394.30 56.70,393.40 54.60,390.50" fill="rgba(60,60,255,0.30)" stroke="none" clip-path="url(#clipE)"/>
<polygon points="54.60,383.30 56.70,387.10 58.60,390.80 60.50,394.60 62.40,397.50 64.30,399.30 66.20,398.40 68.00,400.30 69.90,401.20 71.80,402.20 73.70,403.10 75.60,404.10 77.50,405.90 79.40,408.80 81.20,411.60 83.10,415.39 85.00,411.83 86.90,404.68 88.30,397.96 90.40,394.38 92.40,391.32 95.00,382.00 95.60,380.15 97.60,374.00 99.70,370.20 100.70,370.05 101.00,370.00 101.80,376.40 102.50,382.00 102.80,383.32 104.90,392.56 105.00,393.00 107.00,392.33 108.00,392.00 109.00,387.33 111.00,378.00 111.10,377.47 113.20,366.27 114.00,362.00 115.30,357.25 116.30,353.60 116.90,354.86 118.40,358.00 120.00,364.15 121.00,368.00 122.60,375.47 124.00,382.00 125.30,384.60 126.60,387.20 127.00,388.00 127.90,385.95 129.90,384.59 132.50,384.04 134.50,382.78 135.90,378.80 137.80,380.84 140.50,380.89 143.10,381.54 145.80,380.99 147.70,381.62 149.70,383.66 151.70,386.40 154.30,389.75 157.00,391.70 159.60,392.45 162.30,392.50 164.90,391.85 167.60,391.30 170.20,390.64 172.80,390.09 175.50,390.74 178.50,391.50 178.50,399.50 175.50,398.86 172.80,398.31 170.20,398.96 167.60,399.70 164.90,400.35 162.30,401.10 159.60,401.15 157.00,400.50 154.30,398.65 151.70,395.40 149.70,392.74 147.70,390.78 145.80,390.21 143.10,390.86 140.50,390.31 137.80,390.36 135.90,388.40 134.50,392.42 132.50,393.76 129.90,394.41 127.90,395.85 127.00,399.95 126.60,401.77 125.30,391.89 124.00,389.81 122.60,387.60 121.00,382.88 120.00,379.93 118.40,373.93 116.90,371.02 116.30,373.08 115.30,376.51 114.00,381.88 113.20,385.19 111.10,393.87 111.00,394.38 109.00,404.55 108.00,408.89 107.00,413.22 105.00,409.50 104.90,409.30 102.80,401.00 102.50,396.65 101.80,386.50 101.00,384.97 100.70,384.30 99.70,386.07 97.60,389.47 95.60,395.00 95.00,396.36 92.40,402.88 90.40,405.62 88.30,408.84 86.90,415.32 85.00,422.17 83.10,425.41 81.20,421.60 79.40,418.80 77.50,415.90 75.60,414.10 73.70,413.10 71.80,412.20 69.90,411.20 68.00,410.30 66.20,408.40 64.30,409.30 62.40,407.50 60.50,404.60 58.60,400.80 56.70,397.10 54.60,393.30" fill="rgba(255,60,255,0.28)" stroke="none" clip-path="url(#clipE)"/>
<line x1="58.7" y1="401.6" x2="171.7" y2="401.6" stroke="#0000ff" stroke-width="1.6" stroke-dasharray="6.8 6.475" stroke-dashoffset="0"/>
<line x1="58.7" y1="404.1" x2="171.7" y2="404.1" stroke="#ff00ff" stroke-width="1.6" stroke-dasharray="6.8 6.475" stroke-dashoffset="0"/>
<polyline points="54.60,388.30 56.70,392.10 58.60,395.80 60.50,399.60 62.40,402.50 64.30,404.30 66.20,403.40 68.00,405.30 69.90,406.20 71.80,407.20 73.70,408.10 75.60,409.10 77.50,410.90 79.40,413.80 81.20,416.60 83.10,420.40 85.00,417.00 86.90,410.00 88.30,403.40 90.40,400.00 92.40,397.10 95.60,388.80 97.60,382.60 99.70,378.50 100.70,376.40 101.80,378.50 102.80,393.00 104.90,401.30 107.00,405.40 109.00,397.10 111.10,386.80 113.20,378.50 115.30,370.20 116.90,365.00 118.40,368.10 120.00,374.30 122.60,382.30 125.30,386.90 126.60,396.80 127.90,390.90 129.90,389.50 132.50,388.90 134.50,387.60 135.90,383.60 137.80,385.60 140.50,385.60 143.10,386.20 145.80,385.60 147.70,386.20 149.70,388.20 151.70,390.90 154.30,394.20 157.00,396.10 159.60,396.80 162.30,396.80 164.90,396.10 167.60,395.50 170.20,394.80 172.80,394.20 175.50,394.80 178.50,395.50" fill="none" stroke="#ff00ff" stroke-width="1.5" stroke-linejoin="round" clip-path="url(#clipE)"/>
<polyline points="54.60,384.50 56.70,387.40 58.60,388.30 60.50,390.20 62.40,394.00 64.30,397.70 66.20,401.50 68.00,404.30 69.90,406.20 71.80,406.20 73.70,408.10 75.60,409.10 77.50,411.90 79.40,414.70 81.20,418.50 83.10,423.20 84.10,417.90 86.20,413.70 88.30,409.60 90.40,407.50 92.40,401.30 93.50,388.80 94.50,376.40 96.20,366.00 97.60,361.90 99.10,359.80 100.10,343.20 101.40,330.70 102.00,332.80 102.80,351.50 103.90,378.50 104.90,397.10 105.90,401.30 107.60,397.10 109.00,393.00 111.10,386.80 113.20,380.50 115.30,378.50 117.30,378.50 119.40,378.50 120.00,381.00 122.60,386.20 124.60,382.30 126.60,379.60 128.60,377.60 130.60,378.30 132.50,380.30 134.50,381.00 135.90,375.70 137.20,372.40 139.20,371.00 141.10,370.40 143.10,367.70 144.40,367.10 145.80,371.70 147.10,375.00 149.10,376.30 151.00,378.30 153.00,381.00 155.00,384.90 157.00,388.90 159.60,392.20 162.30,394.20 164.90,396.80 166.90,392.80 168.90,392.20 170.90,383.60 172.80,378.30 174.40,376.30 176.10,382.30 178.50,380.30" fill="none" stroke="#0000ff" stroke-width="1.5" stroke-linejoin="round" clip-path="url(#clipE)"/>
<line x1="83.18" y1="284.45" x2="83.18" y2="489.45" stroke="#2a2a2a" stroke-width="1.2"/>
<line x1="102.30" y1="284.45" x2="102.30" y2="489.45" stroke="#2a2a2a" stroke-width="1.2"/>
<line x1="54.5" y1="284.45" x2="54.5" y2="490.15" stroke="#000" stroke-width="1.5"/>
<line x1="46.5" y1="489.45" x2="178.78" y2="489.45" stroke="#000" stroke-width="1.5"/>
<line x1="46.5" y1="489.45" x2="54.5" y2="489.45" stroke="#000" stroke-width="1.5"/>
<text x="23.96" y="493.75" font-size="10" fill="#333" textLength="15.43" lengthAdjust="spacingAndGlyphs">0.0</text>
<line x1="46.5" y1="448.45" x2="54.5" y2="448.45" stroke="#000" stroke-width="1.5"/>
<text x="23.95" y="452.75" font-size="10" fill="#333" textLength="15.55" lengthAdjust="spacingAndGlyphs">0.1</text>
<line x1="46.5" y1="407.45" x2="54.5" y2="407.45" stroke="#000" stroke-width="1.5"/>
<text x="23.95" y="411.75" font-size="10" fill="#333" textLength="15.61" lengthAdjust="spacingAndGlyphs">0.2</text>
<line x1="46.5" y1="366.45" x2="54.5" y2="366.45" stroke="#000" stroke-width="1.5"/>
<text x="23.95" y="370.75" font-size="10" fill="#333" textLength="15.49" lengthAdjust="spacingAndGlyphs">0.3</text>
<line x1="46.5" y1="325.45" x2="54.5" y2="325.45" stroke="#000" stroke-width="1.5"/>
<text x="23.96" y="329.75" font-size="10" fill="#333" textLength="15.38" lengthAdjust="spacingAndGlyphs">0.4</text>
<line x1="46.5" y1="284.45" x2="54.5" y2="284.45" stroke="#000" stroke-width="1.5"/>
<text x="23.95" y="288.75" font-size="10" fill="#333" textLength="15.49" lengthAdjust="spacingAndGlyphs">0.5</text>
<line x1="64.06" y1="489.45" x2="64.06" y2="496.84999999999997" stroke="#000" stroke-width="1.5"/>
<line x1="83.18" y1="489.45" x2="83.18" y2="496.84999999999997" stroke="#000" stroke-width="1.5"/>
<line x1="102.30" y1="489.45" x2="102.30" y2="496.84999999999997" stroke="#000" stroke-width="1.5"/>
<line x1="121.42" y1="489.45" x2="121.42" y2="496.84999999999997" stroke="#000" stroke-width="1.5"/>
<line x1="140.54" y1="489.45" x2="140.54" y2="496.84999999999997" stroke="#000" stroke-width="1.5"/>
<line x1="159.66" y1="489.45" x2="159.66" y2="496.84999999999997" stroke="#000" stroke-width="1.5"/>
<line x1="178.78" y1="489.45" x2="178.78" y2="496.84999999999997" stroke="#000" stroke-width="1.5"/>
<text x="51.90" y="507.85" font-size="10" fill="#333" textLength="22.20" lengthAdjust="spacingAndGlyphs">-100</text>
<text x="80.01" y="507.85" font-size="10" fill="#333" textLength="5.45" lengthAdjust="spacingAndGlyphs">0</text>
<text x="91.82" y="507.85" font-size="10" fill="#333" textLength="17.38" lengthAdjust="spacingAndGlyphs">100</text>
<text x="110.06" y="507.85" font-size="10" fill="#333" textLength="18.06" lengthAdjust="spacingAndGlyphs">200</text>
<text x="128.67" y="507.85" font-size="10" fill="#333" textLength="17.84" lengthAdjust="spacingAndGlyphs">300</text>
<text x="147.29" y="507.85" font-size="10" fill="#333" textLength="17.72" lengthAdjust="spacingAndGlyphs">400</text>
<text x="165.57" y="507.85" font-size="10" fill="#333" textLength="17.84" lengthAdjust="spacingAndGlyphs">500</text>
<line x1="89" y1="480.7" x2="107.4" y2="480.7" stroke="#000" stroke-width="2.0"/>
<line x1="125.3" y1="480.7" x2="135.8" y2="480.7" stroke="#000" stroke-width="2.0"/>
<line x1="168.8" y1="480.7" x2="178.5" y2="480.7" stroke="#000" stroke-width="2.0"/>
<polygon points="240.30,386.55 242.50,373.60 244.20,369.70 245.90,368.09 247.60,373.65 249.30,372.42 251.00,375.65 252.70,372.60 255.00,367.50 257.20,363.20 259.50,362.30 261.80,369.70 264.00,376.60 265.70,382.80 268.00,385.80 269.70,383.25 270.00,381.00 271.90,379.14 274.20,376.89 274.90,376.20 276.50,374.08 278.60,371.30 278.70,370.79 279.80,365.15 280.40,362.08 281.00,359.00 282.10,358.47 283.50,357.80 283.80,358.41 285.20,361.27 285.50,361.88 285.90,362.70 287.20,351.22 287.70,346.80 288.40,344.07 289.60,339.40 290.80,349.72 291.60,356.60 293.30,366.40 294.50,367.60 295.80,368.90 298.20,373.80 299.40,377.30 300.70,381.10 301.90,383.57 304.30,388.50 305.60,390.12 309.20,394.60 312.90,396.81 316.60,395.12 319.90,393.08 322.50,391.43 325.20,388.28 327.80,384.15 329.90,378.92 331.80,375.20 333.60,381.38 335.80,390.35 337.90,397.98 339.70,402.85 341.60,405.60 343.70,401.60 346.30,397.70 348.40,400.30 350.30,404.34 352.10,403.30 354.20,406.20 356.40,409.11 358.20,409.37 360.10,407.04 361.60,408.56 364.00,407.60 364.00,419.60 361.60,420.90 360.10,419.60 358.20,422.20 356.40,422.20 354.20,419.60 352.10,417.00 350.30,418.30 348.40,414.62 346.30,412.44 343.70,416.86 341.60,421.28 339.70,419.00 337.90,415.00 335.80,408.40 333.60,400.50 331.80,395.20 329.90,397.24 327.80,400.62 325.20,402.46 322.50,405.10 319.90,406.40 316.60,408.00 312.90,409.20 309.20,405.70 305.60,403.86 304.30,403.20 301.90,403.20 300.70,403.20 299.40,403.20 298.20,402.61 295.80,401.44 294.50,400.80 293.30,399.99 291.60,398.84 290.80,398.30 289.60,400.75 288.40,403.20 287.70,410.37 287.20,415.50 285.90,432.60 285.50,429.80 285.20,427.70 283.80,415.59 283.50,413.00 282.10,411.15 281.00,409.69 280.40,408.89 279.80,408.10 278.70,407.56 278.60,407.51 276.50,406.48 274.90,405.70 274.20,405.00 271.90,402.70 270.00,400.80 269.70,397.75 268.00,391.80 265.70,391.18 264.00,387.10 261.80,383.30 259.50,382.80 257.20,383.40 255.00,385.50 252.70,388.30 251.00,389.90 249.30,385.40 247.60,386.02 245.90,382.06 244.20,384.18 242.50,386.60 240.30,396.80" fill="rgba(60,60,255,0.30)" stroke="none" clip-path="url(#clipF)"/>
<polygon points="240.30,390.20 242.50,389.10 244.80,388.50 247.00,387.90 249.30,389.10 251.00,387.40 252.70,389.60 255.00,389.10 257.20,390.37 258.90,386.00 260.60,384.93 262.90,384.01 265.10,384.78 266.80,386.61 268.00,392.30 269.70,394.00 271.90,392.30 274.20,394.60 276.50,398.00 278.70,398.60 281.00,398.60 283.20,400.90 284.00,398.00 285.50,390.20 286.00,387.60 286.50,385.00 287.20,369.83 287.70,359.00 288.00,353.21 288.40,345.48 289.60,322.30 290.00,327.97 290.80,339.33 291.20,345.00 292.00,350.33 292.10,351.00 293.30,359.00 294.50,370.29 295.00,375.00 296.00,375.60 298.20,376.92 300.00,378.00 300.70,380.45 302.00,385.00 304.30,394.97 305.00,398.00 308.00,408.27 311.70,413.29 315.40,414.61 319.10,416.04 322.50,413.35 325.20,409.44 327.80,404.23 329.90,401.70 331.80,404.23 333.60,409.46 335.80,414.67 338.40,417.16 341.00,413.16 343.70,411.65 346.30,412.95 349.00,414.14 351.60,414.04 354.20,415.23 356.90,416.50 359.50,417.90 362.20,417.10 364.00,416.50 364.00,426.50 362.20,427.10 359.50,427.90 356.90,426.50 354.20,425.17 351.60,423.76 349.00,423.66 346.30,422.25 343.70,420.75 341.00,422.04 338.40,425.84 335.80,423.13 333.60,417.74 331.80,412.37 329.90,409.70 327.80,412.37 325.20,417.76 322.50,421.85 319.10,424.76 315.40,423.59 311.70,422.51 308.00,417.73 305.00,410.00 304.30,408.83 302.00,405.00 300.70,403.05 300.00,402.00 298.20,401.10 296.00,400.00 295.00,399.50 294.50,399.25 293.30,398.65 292.10,398.05 292.00,398.00 291.20,396.80 290.80,396.20 290.00,395.00 289.60,398.00 288.40,407.00 288.00,410.00 287.70,411.20 287.20,413.20 286.50,416.00 286.00,418.00 285.50,416.00 284.00,410.00 283.20,414.10 281.00,409.60 278.70,408.60 276.50,408.00 274.20,404.60 271.90,402.30 269.70,404.00 268.00,402.30 266.80,396.70 265.10,395.00 262.90,394.40 260.60,395.50 258.90,396.70 257.20,401.20 255.00,400.10 252.70,400.60 251.00,398.40 249.30,400.10 247.00,398.90 244.80,399.50 242.50,400.10 240.30,401.20" fill="rgba(255,60,255,0.28)" stroke="none" clip-path="url(#clipF)"/>
<line x1="240.0" y1="401.2" x2="364.0" y2="401.2" stroke="#0000ff" stroke-width="1.6" stroke-dasharray="6.9 6.36" stroke-dashoffset="4.2"/>
<line x1="240.0" y1="404.3" x2="364.0" y2="404.3" stroke="#ff00ff" stroke-width="1.6" stroke-dasharray="6.9 6.36" stroke-dashoffset="4.2"/>
<polyline points="240.30,396.20 242.50,395.10 244.80,394.50 247.00,393.90 249.30,395.10 251.00,393.40 252.70,395.60 255.00,395.10 257.20,396.20 258.90,391.70 260.60,390.50 262.90,389.40 265.10,390.00 266.80,391.70 268.00,397.30 269.70,399.00 271.90,397.30 274.20,399.60 276.50,403.00 278.70,403.60 281.00,404.10 283.20,407.50 285.50,413.20 287.20,400.80 288.40,371.30 289.60,354.10 290.80,373.80 292.10,388.50 294.50,391.00 298.20,391.00 300.70,395.80 304.30,405.70 308.00,413.00 311.70,417.90 315.40,419.10 319.10,420.40 322.50,417.60 325.20,413.60 327.80,408.30 329.90,405.70 331.80,408.30 333.60,413.60 335.80,418.90 338.40,421.50 341.00,417.60 343.70,416.20 346.30,417.60 349.00,418.90 351.60,418.90 354.20,420.20 356.90,421.50 359.50,422.90 362.20,422.10 364.00,421.50" fill="none" stroke="#ff00ff" stroke-width="1.5" stroke-linejoin="round" clip-path="url(#clipF)"/>
<polyline points="240.30,392.80 242.50,382.60 244.20,378.70 245.90,376.40 247.60,380.90 249.30,380.40 251.00,384.90 252.70,382.60 255.00,377.50 257.20,373.60 259.50,375.30 261.80,378.10 264.00,382.60 265.70,387.10 268.00,388.80 269.70,390.50 271.90,391.10 274.20,393.90 276.50,388.80 278.70,386.00 280.40,383.80 282.10,384.30 283.80,383.20 285.50,396.20 287.70,376.20 289.60,341.90 290.80,359.00 293.30,373.80 295.80,376.20 298.20,377.50 299.40,376.20 301.90,386.00 305.60,394.60 309.20,399.50 312.90,403.20 316.60,402.00 319.90,400.40 322.50,399.10 325.20,396.40 327.80,393.80 329.90,389.80 331.80,387.20 333.60,392.50 335.80,400.40 337.90,407.00 339.70,411.00 341.60,413.60 343.70,409.60 346.30,405.70 348.40,408.30 350.30,412.30 352.10,411.00 354.20,413.60 356.40,416.20 358.20,416.20 360.10,413.60 361.60,414.90 364.00,413.60" fill="none" stroke="#0000ff" stroke-width="1.5" stroke-linejoin="round" clip-path="url(#clipF)"/>
<line x1="268.68" y1="284.45" x2="268.68" y2="489.45" stroke="#2a2a2a" stroke-width="1.2"/>
<line x1="240.0" y1="284.45" x2="240.0" y2="490.15" stroke="#000" stroke-width="1.5"/>
<line x1="232.0" y1="489.45" x2="364.28" y2="489.45" stroke="#000" stroke-width="1.5"/>
<line x1="232.0" y1="489.45" x2="240.0" y2="489.45" stroke="#000" stroke-width="1.5"/>
<text x="209.46" y="493.75" font-size="10" fill="#333" textLength="15.43" lengthAdjust="spacingAndGlyphs">0.0</text>
<line x1="232.0" y1="448.45" x2="240.0" y2="448.45" stroke="#000" stroke-width="1.5"/>
<text x="209.45" y="452.75" font-size="10" fill="#333" textLength="15.55" lengthAdjust="spacingAndGlyphs">0.1</text>
<line x1="232.0" y1="407.45" x2="240.0" y2="407.45" stroke="#000" stroke-width="1.5"/>
<text x="209.45" y="411.75" font-size="10" fill="#333" textLength="15.61" lengthAdjust="spacingAndGlyphs">0.2</text>
<line x1="232.0" y1="366.45" x2="240.0" y2="366.45" stroke="#000" stroke-width="1.5"/>
<text x="209.45" y="370.75" font-size="10" fill="#333" textLength="15.49" lengthAdjust="spacingAndGlyphs">0.3</text>
<line x1="232.0" y1="325.45" x2="240.0" y2="325.45" stroke="#000" stroke-width="1.5"/>
<text x="209.46" y="329.75" font-size="10" fill="#333" textLength="15.38" lengthAdjust="spacingAndGlyphs">0.4</text>
<line x1="232.0" y1="284.45" x2="240.0" y2="284.45" stroke="#000" stroke-width="1.5"/>
<text x="209.45" y="288.75" font-size="10" fill="#333" textLength="15.49" lengthAdjust="spacingAndGlyphs">0.5</text>
<line x1="249.56" y1="489.45" x2="249.56" y2="496.84999999999997" stroke="#000" stroke-width="1.5"/>
<line x1="268.68" y1="489.45" x2="268.68" y2="496.84999999999997" stroke="#000" stroke-width="1.5"/>
<line x1="287.80" y1="489.45" x2="287.80" y2="496.84999999999997" stroke="#000" stroke-width="1.5"/>
<line x1="306.92" y1="489.45" x2="306.92" y2="496.84999999999997" stroke="#000" stroke-width="1.5"/>
<line x1="326.04" y1="489.45" x2="326.04" y2="496.84999999999997" stroke="#000" stroke-width="1.5"/>
<line x1="345.16" y1="489.45" x2="345.16" y2="496.84999999999997" stroke="#000" stroke-width="1.5"/>
<line x1="364.28" y1="489.45" x2="364.28" y2="496.84999999999997" stroke="#000" stroke-width="1.5"/>
<text x="237.40" y="507.85" font-size="10" fill="#333" textLength="22.20" lengthAdjust="spacingAndGlyphs">-100</text>
<text x="265.51" y="507.85" font-size="10" fill="#333" textLength="5.45" lengthAdjust="spacingAndGlyphs">0</text>
<text x="277.32" y="507.85" font-size="10" fill="#333" textLength="17.38" lengthAdjust="spacingAndGlyphs">100</text>
<text x="295.56" y="507.85" font-size="10" fill="#333" textLength="18.06" lengthAdjust="spacingAndGlyphs">200</text>
<text x="314.17" y="507.85" font-size="10" fill="#333" textLength="17.84" lengthAdjust="spacingAndGlyphs">300</text>
<text x="332.79" y="507.85" font-size="10" fill="#333" textLength="17.72" lengthAdjust="spacingAndGlyphs">400</text>
<text x="351.07" y="507.85" font-size="10" fill="#333" textLength="17.84" lengthAdjust="spacingAndGlyphs">500</text>
<line x1="239.5" y1="481.0" x2="254.7" y2="481.0" stroke="#000" stroke-width="2.0"/>
<line x1="307.4" y1="481.0" x2="342.6" y2="481.0" stroke="#000" stroke-width="2.0"/>
<polygon points="426.00,399.90 428.10,399.30 429.80,400.50 431.50,402.70 433.80,399.60 436.00,400.20 437.70,400.45 440.00,392.53 442.30,388.85 444.00,387.40 446.20,388.70 448.50,388.65 450.70,391.80 452.40,396.65 454.10,400.26 455.80,405.08 458.10,409.86 460.40,414.06 462.60,410.94 464.90,407.31 467.20,405.38 469.40,404.06 471.70,404.60 474.00,406.80 476.20,408.00 478.50,409.10 480.80,410.20 483.00,410.80 485.30,411.90 487.60,409.10 489.80,405.70 492.10,404.60 495.40,400.70 498.40,403.70 501.40,400.70 504.40,403.70 507.50,406.70 510.50,403.60 513.50,392.50 516.50,385.80 519.50,383.70 522.50,381.60 525.60,377.98 527.10,385.18 529.20,378.76 531.60,377.10 533.10,376.30 534.20,371.27 535.40,356.77 536.50,342.53 537.60,328.30 538.80,309.20 539.90,292.77 541.00,275.80 542.10,261.32 543.30,246.36 545.00,210.00 545.00,270.00 543.30,303.64 542.10,316.68 541.00,329.40 539.90,344.23 538.80,354.80 537.60,367.50 536.50,375.53 535.40,383.17 534.20,390.47 533.10,394.30 531.60,395.10 529.20,396.44 527.10,402.02 525.60,394.22 522.50,396.60 519.50,397.60 516.50,399.10 513.50,405.20 510.50,415.70 507.50,418.70 504.40,415.70 501.40,412.70 498.40,415.70 495.40,412.70 492.10,416.60 489.80,417.70 487.60,421.10 485.30,423.90 483.00,422.80 480.80,422.20 478.50,421.10 476.20,420.00 474.00,418.80 471.70,416.60 469.40,416.00 467.20,417.10 464.90,418.80 462.60,422.20 460.40,425.10 458.10,421.10 455.80,416.60 454.10,412.00 452.40,408.60 450.70,407.27 448.50,408.90 446.20,410.10 444.00,408.65 442.30,408.82 440.00,409.87 437.70,414.25 436.00,412.87 433.80,410.80 431.50,412.78 429.80,410.87 428.10,409.95 426.00,410.90" fill="rgba(60,60,255,0.30)" stroke="none" clip-path="url(#clipG)"/>
<polygon points="425.80,408.00 428.00,413.00 431.50,419.80 434.30,411.84 437.70,404.27 440.00,398.00 441.70,398.00 442.80,403.70 444.50,403.70 446.50,405.00 448.50,409.40 450.20,406.00 452.00,407.00 453.20,405.80 454.70,408.88 457.00,402.65 459.50,404.38 462.00,402.50 464.30,403.14 466.60,406.68 468.90,401.62 471.70,396.90 474.50,394.70 476.20,396.28 477.40,402.36 479.00,405.30 480.80,406.80 482.50,410.20 484.70,411.40 486.50,410.00 488.70,408.00 491.00,406.80 493.90,406.70 496.90,409.70 499.90,411.30 502.90,409.70 506.00,408.20 509.00,409.70 512.00,403.70 515.00,397.70 518.00,395.60 521.00,393.50 524.10,395.88 527.10,391.20 530.10,386.60 533.10,380.60 536.10,385.32 539.10,381.42 542.20,376.04 544.30,373.36 546.10,359.20 547.30,320.77 548.50,285.23 549.70,267.00 549.70,273.00 548.50,292.77 547.30,329.83 546.10,369.80 544.30,385.64 542.20,389.16 539.10,395.78 536.10,400.88 533.10,396.60 530.10,402.60 527.10,407.20 524.10,411.52 521.00,407.90 518.00,408.80 515.00,409.70 512.00,415.70 509.00,421.70 506.00,420.20 502.90,421.70 499.90,423.30 496.90,421.70 493.90,418.70 491.00,418.80 488.70,420.00 486.50,422.00 484.70,423.40 482.50,422.20 480.80,418.80 479.00,417.70 477.40,415.40 476.20,409.80 474.50,408.70 471.70,410.90 468.90,415.40 466.60,420.00 464.30,416.00 462.00,414.90 459.50,416.62 457.00,416.15 454.70,423.52 453.20,421.20 452.00,423.00 450.20,422.60 448.50,426.57 446.50,422.83 444.50,421.20 442.80,420.63 441.70,414.57 440.00,414.00 437.70,419.12 434.30,425.16 431.50,432.00 428.00,425.00 425.80,420.00" fill="rgba(255,60,255,0.28)" stroke="none" clip-path="url(#clipG)"/>
<line x1="425.5" y1="402.0" x2="549.0" y2="402.0" stroke="#0000ff" stroke-width="1.6" stroke-dasharray="6.8 6.5" stroke-dashoffset="3.5"/>
<line x1="425.5" y1="404.4" x2="549.0" y2="404.4" stroke="#ff00ff" stroke-width="1.6" stroke-dasharray="6.8 6.5" stroke-dashoffset="3.5"/>
<polyline points="425.80,414.00 428.00,419.00 431.50,425.90 434.30,418.50 437.70,411.70 440.00,406.00 441.70,406.00 442.80,411.70 444.50,411.70 446.50,413.00 448.50,417.40 450.20,414.00 452.00,415.00 453.20,413.50 454.70,416.20 457.00,409.40 459.50,410.50 462.00,408.90 464.30,410.00 466.60,414.00 468.90,409.40 471.70,404.90 474.50,402.70 476.20,403.80 477.40,409.40 479.00,411.70 480.80,412.80 482.50,416.20 484.70,417.40 486.50,416.00 488.70,414.00 491.00,412.80 493.90,412.70 496.90,415.70 499.90,417.30 502.90,415.70 506.00,414.20 509.00,415.70 512.00,409.70 515.00,403.70 518.00,402.20 521.00,400.70 524.10,403.70 527.10,399.20 530.10,394.60 533.10,388.60 536.10,393.10 539.10,388.60 542.20,382.60 544.30,379.50 546.10,364.50 547.30,325.30 548.50,289.00 549.70,270.00" fill="none" stroke="#ff00ff" stroke-width="1.5" stroke-linejoin="round" clip-path="url(#clipG)"/>
<polyline points="426.00,404.90 428.10,404.30 429.80,405.50 431.50,407.70 433.80,405.50 436.00,407.20 437.70,408.30 440.00,403.20 442.30,401.50 444.00,400.90 446.20,402.10 448.50,400.90 450.70,400.40 452.40,402.60 454.10,406.00 455.80,410.60 458.10,415.10 460.40,419.10 462.60,416.20 464.90,412.80 467.20,411.10 469.40,410.00 471.70,410.60 474.00,412.80 476.20,414.00 478.50,415.10 480.80,416.20 483.00,416.80 485.30,417.90 487.60,415.10 489.80,411.70 492.10,410.60 495.40,406.70 498.40,409.70 501.40,406.70 504.40,409.70 507.50,412.70 510.50,409.70 513.50,399.20 516.50,393.10 519.50,391.60 522.50,390.10 525.60,387.10 527.10,394.60 529.20,388.60 531.60,387.10 533.10,386.30 534.20,381.80 535.40,370.50 536.50,359.20 537.60,347.90 538.80,332.00 539.90,318.50 541.00,302.60 542.10,289.00 543.30,275.00 545.00,240.00" fill="none" stroke="#0000ff" stroke-width="1.5" stroke-linejoin="round" clip-path="url(#clipG)"/>
<line x1="521.10" y1="284.45" x2="521.10" y2="489.45" stroke="#2a2a2a" stroke-width="1.2"/>
<line x1="425.5" y1="284.45" x2="425.5" y2="490.15" stroke="#000" stroke-width="1.5"/>
<line x1="417.5" y1="489.45" x2="549.78" y2="489.45" stroke="#000" stroke-width="1.5"/>
<line x1="417.5" y1="489.45" x2="425.5" y2="489.45" stroke="#000" stroke-width="1.5"/>
<text x="394.96" y="493.75" font-size="10" fill="#333" textLength="15.43" lengthAdjust="spacingAndGlyphs">0.0</text>
<line x1="417.5" y1="448.45" x2="425.5" y2="448.45" stroke="#000" stroke-width="1.5"/>
<text x="394.95" y="452.75" font-size="10" fill="#333" textLength="15.55" lengthAdjust="spacingAndGlyphs">0.1</text>
<line x1="417.5" y1="407.45" x2="425.5" y2="407.45" stroke="#000" stroke-width="1.5"/>
<text x="394.95" y="411.75" font-size="10" fill="#333" textLength="15.61" lengthAdjust="spacingAndGlyphs">0.2</text>
<line x1="417.5" y1="366.45" x2="425.5" y2="366.45" stroke="#000" stroke-width="1.5"/>
<text x="394.95" y="370.75" font-size="10" fill="#333" textLength="15.49" lengthAdjust="spacingAndGlyphs">0.3</text>
<line x1="417.5" y1="325.45" x2="425.5" y2="325.45" stroke="#000" stroke-width="1.5"/>
<text x="394.96" y="329.75" font-size="10" fill="#333" textLength="15.38" lengthAdjust="spacingAndGlyphs">0.4</text>
<line x1="417.5" y1="284.45" x2="425.5" y2="284.45" stroke="#000" stroke-width="1.5"/>
<text x="394.95" y="288.75" font-size="10" fill="#333" textLength="15.49" lengthAdjust="spacingAndGlyphs">0.5</text>
<line x1="425.50" y1="489.45" x2="425.50" y2="496.84999999999997" stroke="#000" stroke-width="1.5"/>
<line x1="444.62" y1="489.45" x2="444.62" y2="496.84999999999997" stroke="#000" stroke-width="1.5"/>
<line x1="463.74" y1="489.45" x2="463.74" y2="496.84999999999997" stroke="#000" stroke-width="1.5"/>
<line x1="482.86" y1="489.45" x2="482.86" y2="496.84999999999997" stroke="#000" stroke-width="1.5"/>
<line x1="501.98" y1="489.45" x2="501.98" y2="496.84999999999997" stroke="#000" stroke-width="1.5"/>
<line x1="521.10" y1="489.45" x2="521.10" y2="496.84999999999997" stroke="#000" stroke-width="1.5"/>
<line x1="540.22" y1="489.45" x2="540.22" y2="496.84999999999997" stroke="#000" stroke-width="1.5"/>
<text x="408.13" y="507.85" font-size="10" fill="#333" textLength="20.95" lengthAdjust="spacingAndGlyphs">-500</text>
<text x="428.44" y="507.85" font-size="10" fill="#333" textLength="20.33" lengthAdjust="spacingAndGlyphs">-400</text>
<text x="449.11" y="507.85" font-size="10" fill="#333" textLength="21.89" lengthAdjust="spacingAndGlyphs">-300</text>
<text x="471.53" y="507.85" font-size="10" fill="#333" textLength="20.95" lengthAdjust="spacingAndGlyphs">-200</text>
<text x="491.84" y="507.85" font-size="10" fill="#333" textLength="20.33" lengthAdjust="spacingAndGlyphs">-100</text>
<text x="518.46" y="507.85" font-size="10" fill="#333" textLength="5.45" lengthAdjust="spacingAndGlyphs">0</text>
<text x="530.32" y="507.85" font-size="10" fill="#333" textLength="17.38" lengthAdjust="spacingAndGlyphs">100</text>
<line x1="425.3" y1="480.8" x2="441" y2="480.8" stroke="#000" stroke-width="2.0"/>
<line x1="533.2" y1="480.8" x2="550.5" y2="480.8" stroke="#000" stroke-width="2.0"/>
<rect x="56.00" y="58.10" width="25.80" height="4.70" fill="#c8c8c8"/>
<rect x="84.30" y="48.00" width="93.30" height="4.90" fill="#c8c8c8"/>
<rect x="269.70" y="48.10" width="93.30" height="4.80" fill="#c8c8c8"/>
<rect x="427.00" y="48.30" width="93.00" height="4.80" fill="#c8c8c8"/>
<text x="54.97" y="73.70" font-size="8.1" fill="#333" textLength="28.03" lengthAdjust="spacingAndGlyphs">Control</text>
<text x="113.95" y="65.40" font-size="8.3" fill="#333" textLength="30.42" lengthAdjust="spacingAndGlyphs">Period 1</text>
<text x="300.01" y="65.50" font-size="8.3" fill="#333" textLength="32.12" lengthAdjust="spacingAndGlyphs">Period 2</text>
<text x="456.81" y="65.50" font-size="8.3" fill="#333" textLength="32.24" lengthAdjust="spacingAndGlyphs">Period 3</text>
<text x="68.86" y="21.70" font-size="9.8" fill="#333" textLength="19.82" lengthAdjust="spacingAndGlyphs">Cue</text>
<text x="65.37" y="32.30" font-size="9.8" fill="#333" textLength="26.50" lengthAdjust="spacingAndGlyphs">onset</text>
<text x="98.37" y="21.70" font-size="9.8" fill="#333" textLength="19.40" lengthAdjust="spacingAndGlyphs">Cue</text>
<text x="94.46" y="32.30" font-size="9.8" fill="#333" textLength="26.83" lengthAdjust="spacingAndGlyphs">offset</text>
<text x="248.20" y="21.60" font-size="9.8" fill="#333" textLength="42.28" lengthAdjust="spacingAndGlyphs">Stimulus</text>
<text x="255.77" y="32.20" font-size="9.8" fill="#333" textLength="26.09" lengthAdjust="spacingAndGlyphs">onset</text>
<text x="508.25" y="19.80" font-size="9.7" fill="#333" textLength="26.06" lengthAdjust="spacingAndGlyphs">Color</text>
<text x="503.67" y="30.30" font-size="9.7" fill="#333" textLength="35.63" lengthAdjust="spacingAndGlyphs">change</text>
<text x="2.9" y="33.3" font-size="15.3" text-anchor="start" fill="#333">A</text>
<text x="186.9" y="33.4" font-size="15.3" text-anchor="start" fill="#333">B</text>
<text x="372.6" y="33.2" font-size="15.3" text-anchor="start" fill="#333">C</text>
<text x="573.7" y="33.3" font-size="15.3" text-anchor="start" fill="#333">D</text>
<text x="1.7" y="277.5" font-size="15.3" text-anchor="start" fill="#333">E</text>
<text x="188.1" y="277.6" font-size="15.3" text-anchor="start" fill="#333">F</text>
<text x="373.2" y="276.9" font-size="15.3" text-anchor="start" fill="#333">G</text>
<text x="573.9" y="277.4" font-size="15.3" text-anchor="start" fill="#333">H</text>
<text x="9.6" y="141.5" font-size="11.6" text-anchor="middle" fill="#333" transform="rotate(-90 9.6 141.5)" textLength="90.0" lengthAdjust="spacingAndGlyphs">Amplitude (deg.)</text>
<text x="9.6" y="385.3" font-size="11.6" text-anchor="middle" fill="#333" transform="rotate(-90 9.6 385.3)" textLength="90.0" lengthAdjust="spacingAndGlyphs">Amplitude (deg.)</text>
<text x="116.35" y="526.5" font-size="11.8" text-anchor="middle" fill="#333" textLength="143" lengthAdjust="spacingAndGlyphs">Time from cue onset (ms)</text>
<text x="299.35" y="526.5" font-size="11.8" text-anchor="middle" fill="#333" textLength="170.5" lengthAdjust="spacingAndGlyphs">Time from stimulus onset (ms)</text>
<text x="488.3" y="526.5" font-size="11.8" text-anchor="middle" fill="#333" textLength="162.2" lengthAdjust="spacingAndGlyphs">Time from color change (ms)</text>
<line x1="669.3" y1="4.4" x2="697" y2="4.4" stroke="#0000ff" stroke-width="1.6"/>
<line x1="669.3" y1="19.2" x2="697" y2="19.2" stroke="#ff00ff" stroke-width="1.6"/>
<text x="703.85" y="7.90" font-size="9.6" fill="#333" textLength="23.53" lengthAdjust="spacingAndGlyphs">Easy</text>
<text x="703.82" y="22.60" font-size="9.6" fill="#333" textLength="23.71" lengthAdjust="spacingAndGlyphs">Hard</text>
<line x1="622.5" y1="35.25" x2="622.5" y2="132.45" stroke="#333" stroke-width="1.0"/>
<line x1="622.5" y1="132.45" x2="727" y2="132.45" stroke="#333" stroke-width="1.0"/>
<line x1="619.3" y1="132.45" x2="622.5" y2="132.45" stroke="#333" stroke-width="1.0"/>
<text x="603.85" y="136.10" font-size="7.5" fill="#333" textLength="12.16" lengthAdjust="spacingAndGlyphs">0.0</text>
<line x1="619.3" y1="100.04999999999998" x2="622.5" y2="100.04999999999998" stroke="#333" stroke-width="1.0"/>
<text x="603.85" y="103.70" font-size="7.5" fill="#333" textLength="12.25" lengthAdjust="spacingAndGlyphs">0.1</text>
<line x1="619.3" y1="67.64999999999999" x2="622.5" y2="67.64999999999999" stroke="#333" stroke-width="1.0"/>
<text x="603.85" y="71.30" font-size="7.5" fill="#333" textLength="12.30" lengthAdjust="spacingAndGlyphs">0.2</text>
<line x1="619.3" y1="35.25" x2="622.5" y2="35.25" stroke="#333" stroke-width="1.0"/>
<text x="603.85" y="38.90" font-size="7.5" fill="#333" textLength="12.20" lengthAdjust="spacingAndGlyphs">0.3</text>
<rect x="630.00" y="58.90" width="7.75" height="73.55" fill="#0000ff" stroke="#111" stroke-width="0.8"/>
<rect x="637.75" y="61.10" width="7.75" height="71.35" fill="#ff00ff" stroke="#111" stroke-width="0.8"/>
<line x1="633.875" y1="54.1" x2="633.875" y2="63.6" stroke="#111" stroke-width="1.0"/>
<line x1="632.375" y1="54.1" x2="635.375" y2="54.1" stroke="#111" stroke-width="1.0"/>
<line x1="632.375" y1="63.6" x2="635.375" y2="63.6" stroke="#111" stroke-width="1.0"/>
<line x1="641.625" y1="57.2" x2="641.625" y2="64.5" stroke="#111" stroke-width="1.0"/>
<line x1="640.125" y1="57.2" x2="643.125" y2="57.2" stroke="#111" stroke-width="1.0"/>
<line x1="640.125" y1="64.5" x2="643.125" y2="64.5" stroke="#111" stroke-width="1.0"/>
<line x1="637.75" y1="132.45" x2="637.75" y2="135.95" stroke="#333" stroke-width="1.0"/>
<rect x="655.60" y="70.40" width="7.75" height="62.05" fill="#0000ff" stroke="#111" stroke-width="0.8"/>
<rect x="663.35" y="82.30" width="7.75" height="50.15" fill="#ff00ff" stroke="#111" stroke-width="0.8"/>
<line x1="659.475" y1="68.3" x2="659.475" y2="73.0" stroke="#111" stroke-width="1.0"/>
<line x1="657.975" y1="68.3" x2="660.975" y2="68.3" stroke="#111" stroke-width="1.0"/>
<line x1="657.975" y1="73.0" x2="660.975" y2="73.0" stroke="#111" stroke-width="1.0"/>
<line x1="667.225" y1="80.2" x2="667.225" y2="84.9" stroke="#111" stroke-width="1.0"/>
<line x1="665.725" y1="80.2" x2="668.725" y2="80.2" stroke="#111" stroke-width="1.0"/>
<line x1="665.725" y1="84.9" x2="668.725" y2="84.9" stroke="#111" stroke-width="1.0"/>
<line x1="663.35" y1="132.45" x2="663.35" y2="135.95" stroke="#333" stroke-width="1.0"/>
<rect x="681.10" y="91.50" width="7.75" height="40.95" fill="#0000ff" stroke="#111" stroke-width="0.8"/>
<rect x="688.85" y="103.10" width="7.75" height="29.35" fill="#ff00ff" stroke="#111" stroke-width="0.8"/>
<line x1="684.975" y1="90.3" x2="684.975" y2="92.8" stroke="#111" stroke-width="1.0"/>
<line x1="683.475" y1="90.3" x2="686.475" y2="90.3" stroke="#111" stroke-width="1.0"/>
<line x1="683.475" y1="92.8" x2="686.475" y2="92.8" stroke="#111" stroke-width="1.0"/>
<line x1="692.725" y1="101.4" x2="692.725" y2="104.4" stroke="#111" stroke-width="1.0"/>
<line x1="691.225" y1="101.4" x2="694.225" y2="101.4" stroke="#111" stroke-width="1.0"/>
<line x1="691.225" y1="104.4" x2="694.225" y2="104.4" stroke="#111" stroke-width="1.0"/>
<line x1="688.85" y1="132.45" x2="688.85" y2="135.95" stroke="#333" stroke-width="1.0"/>
<rect x="706.90" y="93.20" width="7.75" height="39.25" fill="#0000ff" stroke="#111" stroke-width="0.8"/>
<rect x="714.65" y="95.50" width="7.75" height="36.95" fill="#ff00ff" stroke="#111" stroke-width="0.8"/>
<line x1="710.775" y1="92.3" x2="710.775" y2="94.3" stroke="#111" stroke-width="1.0"/>
<line x1="709.275" y1="92.3" x2="712.275" y2="92.3" stroke="#111" stroke-width="1.0"/>
<line x1="709.275" y1="94.3" x2="712.275" y2="94.3" stroke="#111" stroke-width="1.0"/>
<line x1="718.525" y1="94.7" x2="718.525" y2="96.5" stroke="#111" stroke-width="1.0"/>
<line x1="717.025" y1="94.7" x2="720.025" y2="94.7" stroke="#111" stroke-width="1.0"/>
<line x1="717.025" y1="96.5" x2="720.025" y2="96.5" stroke="#111" stroke-width="1.0"/>
<line x1="714.65" y1="132.45" x2="714.65" y2="135.95" stroke="#333" stroke-width="1.0"/>
<line x1="634.2" y1="47.9" x2="642.6" y2="47.9" stroke="#999" stroke-width="1.1"/>
<text x="633.63" y="45.70" font-size="8.2" fill="#444" textLength="9.29" lengthAdjust="spacingAndGlyphs">ns</text>
<line x1="659.9" y1="61.4" x2="668.9" y2="61.4" stroke="#666" stroke-width="1.1"/>
<text x="659.58" y="60.70" font-size="8.1" fill="#444" textLength="9.63" lengthAdjust="spacingAndGlyphs">***</text>
<line x1="685.9" y1="84.1" x2="693.8" y2="84.1" stroke="#999" stroke-width="1.1"/>
<text x="685.08" y="83.20" font-size="8.1" fill="#444" textLength="9.63" lengthAdjust="spacingAndGlyphs">***</text>
<line x1="711.2" y1="86.6" x2="719.3" y2="86.6" stroke="#666" stroke-width="1.1"/>
<text x="713.98" y="85.80" font-size="8.1" fill="#444" textLength="3.24" lengthAdjust="spacingAndGlyphs">*</text>
<text x="636.9" y="148.6" font-size="7.9" text-anchor="middle" fill="#333" transform="rotate(-13.6 636.9 148.6)" textLength="26.74" lengthAdjust="spacingAndGlyphs">Control</text>
<text x="662.5" y="148.6" font-size="7.9" text-anchor="middle" fill="#333" transform="rotate(-13.6 662.5 148.6)" textLength="30.89" lengthAdjust="spacingAndGlyphs">Period 1</text>
<text x="688.0" y="148.6" font-size="7.9" text-anchor="middle" fill="#333" transform="rotate(-13.6 688.0 148.6)" textLength="30.89" lengthAdjust="spacingAndGlyphs">Period 2</text>
<text x="713.8" y="148.6" font-size="7.9" text-anchor="middle" fill="#333" transform="rotate(-13.6 713.8 148.6)" textLength="30.89" lengthAdjust="spacingAndGlyphs">Period 3</text>
<text x="591.80" y="88.10" font-size="9.6" fill="#333" text-anchor="middle" textLength="76.04" lengthAdjust="spacingAndGlyphs" transform="rotate(-90 591.80 88.10)">Amplitude (deg.)</text>
<line x1="622.5" y1="152.3" x2="622.5" y2="248.8" stroke="#333" stroke-width="1.0"/>
<line x1="622.5" y1="161.5" x2="727.8" y2="161.5" stroke="#333" stroke-width="1.0"/>
<line x1="619.4" y1="161.5" x2="622.5" y2="161.5" stroke="#333" stroke-width="1.0"/>
<text x="599.24" y="164.90" font-size="7.5" fill="#333" textLength="17.28" lengthAdjust="spacingAndGlyphs">0.00</text>
<line x1="619.4" y1="178.96" x2="622.5" y2="178.96" stroke="#333" stroke-width="1.0"/>
<text x="596.71" y="182.36" font-size="7.5" fill="#333" textLength="19.74" lengthAdjust="spacingAndGlyphs">-0.04</text>
<line x1="619.4" y1="196.42000000000002" x2="622.5" y2="196.42000000000002" stroke="#333" stroke-width="1.0"/>
<text x="596.71" y="199.82" font-size="7.5" fill="#333" textLength="19.83" lengthAdjust="spacingAndGlyphs">-0.08</text>
<line x1="619.4" y1="213.88" x2="622.5" y2="213.88" stroke="#333" stroke-width="1.0"/>
<text x="596.71" y="217.28" font-size="7.5" fill="#333" textLength="19.92" lengthAdjust="spacingAndGlyphs">-0.12</text>
<line x1="619.4" y1="231.34" x2="622.5" y2="231.34" stroke="#333" stroke-width="1.0"/>
<text x="596.71" y="234.74" font-size="7.5" fill="#333" textLength="19.83" lengthAdjust="spacingAndGlyphs">-0.16</text>
<line x1="619.4" y1="248.8" x2="622.5" y2="248.8" stroke="#333" stroke-width="1.0"/>
<text x="596.71" y="252.20" font-size="7.5" fill="#333" textLength="19.79" lengthAdjust="spacingAndGlyphs">-0.20</text>
<rect x="632.40" y="161.50" width="10.50" height="4.30" fill="#c0c0c0" stroke="#333" stroke-width="0.9"/>
<line x1="637.65" y1="158.0" x2="637.65" y2="173.6" stroke="#222" stroke-width="1.0"/>
<line x1="636.25" y1="158.0" x2="639.05" y2="158.0" stroke="#222" stroke-width="1.0"/>
<line x1="636.25" y1="173.6" x2="639.05" y2="173.6" stroke="#222" stroke-width="1.0"/>
<line x1="637.75" y1="161.5" x2="637.75" y2="157.5" stroke="#333" stroke-width="1.0"/>
<rect x="658.20" y="161.50" width="10.50" height="48.60" fill="#c0c0c0" stroke="#333" stroke-width="0.9"/>
<line x1="663.45" y1="205.3" x2="663.45" y2="214.3" stroke="#222" stroke-width="1.0"/>
<line x1="662.0500000000001" y1="205.3" x2="664.85" y2="205.3" stroke="#222" stroke-width="1.0"/>
<line x1="662.0500000000001" y1="214.3" x2="664.85" y2="214.3" stroke="#222" stroke-width="1.0"/>
<line x1="663.35" y1="161.5" x2="663.35" y2="157.5" stroke="#333" stroke-width="1.0"/>
<rect x="684.00" y="161.50" width="10.50" height="72.80" fill="#c0c0c0" stroke="#333" stroke-width="0.9"/>
<line x1="689.25" y1="227.4" x2="689.25" y2="241.0" stroke="#222" stroke-width="1.0"/>
<line x1="687.85" y1="227.4" x2="690.65" y2="227.4" stroke="#222" stroke-width="1.0"/>
<line x1="687.85" y1="241.0" x2="690.65" y2="241.0" stroke="#222" stroke-width="1.0"/>
<line x1="688.85" y1="161.5" x2="688.85" y2="157.5" stroke="#333" stroke-width="1.0"/>
<rect x="709.60" y="161.50" width="10.50" height="12.80" fill="#c0c0c0" stroke="#333" stroke-width="0.9"/>
<line x1="714.85" y1="168.4" x2="714.85" y2="179.6" stroke="#222" stroke-width="1.0"/>
<line x1="713.45" y1="168.4" x2="716.25" y2="168.4" stroke="#222" stroke-width="1.0"/>
<line x1="713.45" y1="179.6" x2="716.25" y2="179.6" stroke="#222" stroke-width="1.0"/>
<line x1="714.65" y1="161.5" x2="714.65" y2="157.5" stroke="#333" stroke-width="1.0"/>
<text x="590.30" y="204.60" font-size="9.7" fill="#333" text-anchor="middle" textLength="70.31" lengthAdjust="spacingAndGlyphs" transform="rotate(-90 590.30 204.60)">DMI_amplitude</text>
<polyline points="663.3,251.79999999999998 663.3,253.7 687.7,253.7 687.7,251.79999999999998" fill="none" stroke="#666" stroke-width="1.0"/>
<text x="673.77" y="260.80" font-size="8.1" fill="#444" textLength="3.24" lengthAdjust="spacingAndGlyphs">*</text>
<polyline points="690.2,251.79999999999998 690.2,253.7 714.9,253.7 714.9,251.79999999999998" fill="none" stroke="#999" stroke-width="1.0"/>
<text x="697.88" y="260.80" font-size="8.1" fill="#444" textLength="9.63" lengthAdjust="spacingAndGlyphs">***</text>
<polyline points="663.3,261.20000000000005 663.3,263.1 714.9,263.1 714.9,261.20000000000005" fill="none" stroke="#888" stroke-width="1.0"/>
<text x="684.28" y="270.20" font-size="8.1" fill="#444" textLength="9.63" lengthAdjust="spacingAndGlyphs">***</text>
<text x="750.2" y="145.6" font-size="11.5" text-anchor="middle" fill="#333" transform="rotate(90 750.2 145.6)">Monkey G</text>
<line x1="622.5" y1="280.51" x2="622.5" y2="376.3" stroke="#333" stroke-width="1.0"/>
<line x1="622.5" y1="376.3" x2="727" y2="376.3" stroke="#333" stroke-width="1.0"/>
<line x1="619.3" y1="376.3" x2="622.5" y2="376.3" stroke="#333" stroke-width="1.0"/>
<text x="603.85" y="379.95" font-size="7.5" fill="#333" textLength="12.16" lengthAdjust="spacingAndGlyphs">0.0</text>
<line x1="619.3" y1="344.37" x2="622.5" y2="344.37" stroke="#333" stroke-width="1.0"/>
<text x="603.85" y="348.02" font-size="7.5" fill="#333" textLength="12.25" lengthAdjust="spacingAndGlyphs">0.1</text>
<line x1="619.3" y1="312.44" x2="622.5" y2="312.44" stroke="#333" stroke-width="1.0"/>
<text x="603.85" y="316.09" font-size="7.5" fill="#333" textLength="12.30" lengthAdjust="spacingAndGlyphs">0.2</text>
<line x1="619.3" y1="280.51" x2="622.5" y2="280.51" stroke="#333" stroke-width="1.0"/>
<text x="603.85" y="284.16" font-size="7.5" fill="#333" textLength="12.20" lengthAdjust="spacingAndGlyphs">0.3</text>
<rect x="630.00" y="307.90" width="7.75" height="68.40" fill="#0000ff" stroke="#111" stroke-width="0.8"/>
<rect x="637.75" y="309.80" width="7.75" height="66.50" fill="#ff00ff" stroke="#111" stroke-width="0.8"/>
<line x1="633.875" y1="305.4" x2="633.875" y2="310.2" stroke="#111" stroke-width="1.0"/>
<line x1="632.375" y1="305.4" x2="635.375" y2="305.4" stroke="#111" stroke-width="1.0"/>
<line x1="632.375" y1="310.2" x2="635.375" y2="310.2" stroke="#111" stroke-width="1.0"/>
<line x1="641.625" y1="307.4" x2="641.625" y2="311.7" stroke="#111" stroke-width="1.0"/>
<line x1="640.125" y1="307.4" x2="643.125" y2="307.4" stroke="#111" stroke-width="1.0"/>
<line x1="640.125" y1="311.7" x2="643.125" y2="311.7" stroke="#111" stroke-width="1.0"/>
<line x1="637.75" y1="376.3" x2="637.75" y2="379.8" stroke="#333" stroke-width="1.0"/>
<rect x="655.60" y="293.50" width="7.75" height="82.80" fill="#0000ff" stroke="#111" stroke-width="0.8"/>
<rect x="663.35" y="301.10" width="7.75" height="75.20" fill="#ff00ff" stroke="#111" stroke-width="0.8"/>
<line x1="659.475" y1="291.3" x2="659.475" y2="295.6" stroke="#111" stroke-width="1.0"/>
<line x1="657.975" y1="291.3" x2="660.975" y2="291.3" stroke="#111" stroke-width="1.0"/>
<line x1="657.975" y1="295.6" x2="660.975" y2="295.6" stroke="#111" stroke-width="1.0"/>
<line x1="667.225" y1="299.6" x2="667.225" y2="302.3" stroke="#111" stroke-width="1.0"/>
<line x1="665.725" y1="299.6" x2="668.725" y2="299.6" stroke="#111" stroke-width="1.0"/>
<line x1="665.725" y1="302.3" x2="668.725" y2="302.3" stroke="#111" stroke-width="1.0"/>
<line x1="663.35" y1="376.3" x2="663.35" y2="379.8" stroke="#333" stroke-width="1.0"/>
<rect x="681.10" y="303.30" width="7.75" height="73.00" fill="#0000ff" stroke="#111" stroke-width="0.8"/>
<rect x="688.85" y="313.30" width="7.75" height="63.00" fill="#ff00ff" stroke="#111" stroke-width="0.8"/>
<line x1="684.975" y1="302.2" x2="684.975" y2="305.5" stroke="#111" stroke-width="1.0"/>
<line x1="683.475" y1="302.2" x2="686.475" y2="302.2" stroke="#111" stroke-width="1.0"/>
<line x1="683.475" y1="305.5" x2="686.475" y2="305.5" stroke="#111" stroke-width="1.0"/>
<line x1="692.725" y1="311.4" x2="692.725" y2="315.2" stroke="#111" stroke-width="1.0"/>
<line x1="691.225" y1="311.4" x2="694.225" y2="311.4" stroke="#111" stroke-width="1.0"/>
<line x1="691.225" y1="315.2" x2="694.225" y2="315.2" stroke="#111" stroke-width="1.0"/>
<line x1="688.85" y1="376.3" x2="688.85" y2="379.8" stroke="#333" stroke-width="1.0"/>
<rect x="706.90" y="312.50" width="7.75" height="63.80" fill="#0000ff" stroke="#111" stroke-width="0.8"/>
<rect x="714.65" y="315.80" width="7.75" height="60.50" fill="#ff00ff" stroke="#111" stroke-width="0.8"/>
<line x1="710.775" y1="311.8" x2="710.775" y2="313.3" stroke="#111" stroke-width="1.0"/>
<line x1="709.275" y1="311.8" x2="712.275" y2="311.8" stroke="#111" stroke-width="1.0"/>
<line x1="709.275" y1="313.3" x2="712.275" y2="313.3" stroke="#111" stroke-width="1.0"/>
<line x1="718.525" y1="315.1" x2="718.525" y2="316.5" stroke="#111" stroke-width="1.0"/>
<line x1="717.025" y1="315.1" x2="720.025" y2="315.1" stroke="#111" stroke-width="1.0"/>
<line x1="717.025" y1="316.5" x2="720.025" y2="316.5" stroke="#111" stroke-width="1.0"/>
<line x1="714.65" y1="376.3" x2="714.65" y2="379.8" stroke="#333" stroke-width="1.0"/>
<line x1="633.9" y1="299.6" x2="642.0" y2="299.6" stroke="#999" stroke-width="1.1"/>
<text x="633.43" y="297.80" font-size="8.2" fill="#444" textLength="9.29" lengthAdjust="spacingAndGlyphs">ns</text>
<line x1="660.0" y1="285.6" x2="667.9" y2="285.6" stroke="#666" stroke-width="1.1"/>
<text x="662.38" y="285.10" font-size="8.1" fill="#444" textLength="3.24" lengthAdjust="spacingAndGlyphs">*</text>
<line x1="686.0" y1="296.6" x2="695.0" y2="296.6" stroke="#999" stroke-width="1.1"/>
<text x="685.68" y="296.20" font-size="8.1" fill="#444" textLength="9.63" lengthAdjust="spacingAndGlyphs">***</text>
<line x1="711.3" y1="305.7" x2="719.8" y2="305.7" stroke="#999" stroke-width="1.1"/>
<text x="714.27" y="305.30" font-size="8.1" fill="#444" textLength="3.24" lengthAdjust="spacingAndGlyphs">*</text>
<text x="636.9" y="392.5" font-size="7.9" text-anchor="middle" fill="#333" transform="rotate(-13.6 636.9 392.5)" textLength="26.74" lengthAdjust="spacingAndGlyphs">Control</text>
<text x="662.5" y="392.5" font-size="7.9" text-anchor="middle" fill="#333" transform="rotate(-13.6 662.5 392.5)" textLength="30.89" lengthAdjust="spacingAndGlyphs">Period 1</text>
<text x="688.0" y="392.5" font-size="7.9" text-anchor="middle" fill="#333" transform="rotate(-13.6 688.0 392.5)" textLength="30.89" lengthAdjust="spacingAndGlyphs">Period 2</text>
<text x="713.8" y="392.5" font-size="7.9" text-anchor="middle" fill="#333" transform="rotate(-13.6 713.8 392.5)" textLength="30.89" lengthAdjust="spacingAndGlyphs">Period 3</text>
<text x="591.80" y="329.60" font-size="9.6" fill="#333" text-anchor="middle" textLength="76.04" lengthAdjust="spacingAndGlyphs" transform="rotate(-90 591.80 329.60)">Amplitude (deg.)</text>
<line x1="622.5" y1="396.1" x2="622.5" y2="493.20000000000005" stroke="#333" stroke-width="1.0"/>
<line x1="622.5" y1="405.3" x2="727.8" y2="405.3" stroke="#333" stroke-width="1.0"/>
<line x1="619.4" y1="405.3" x2="622.5" y2="405.3" stroke="#333" stroke-width="1.0"/>
<text x="599.24" y="408.70" font-size="7.5" fill="#333" textLength="17.28" lengthAdjust="spacingAndGlyphs">0.00</text>
<line x1="619.4" y1="422.88" x2="622.5" y2="422.88" stroke="#333" stroke-width="1.0"/>
<text x="596.71" y="426.28" font-size="7.5" fill="#333" textLength="19.74" lengthAdjust="spacingAndGlyphs">-0.04</text>
<line x1="619.4" y1="440.46000000000004" x2="622.5" y2="440.46000000000004" stroke="#333" stroke-width="1.0"/>
<text x="596.71" y="443.86" font-size="7.5" fill="#333" textLength="19.83" lengthAdjust="spacingAndGlyphs">-0.08</text>
<line x1="619.4" y1="458.04" x2="622.5" y2="458.04" stroke="#333" stroke-width="1.0"/>
<text x="596.71" y="461.44" font-size="7.5" fill="#333" textLength="19.92" lengthAdjust="spacingAndGlyphs">-0.12</text>
<line x1="619.4" y1="475.62" x2="622.5" y2="475.62" stroke="#333" stroke-width="1.0"/>
<text x="596.71" y="479.02" font-size="7.5" fill="#333" textLength="19.83" lengthAdjust="spacingAndGlyphs">-0.16</text>
<line x1="619.4" y1="493.20000000000005" x2="622.5" y2="493.20000000000005" stroke="#333" stroke-width="1.0"/>
<text x="596.71" y="496.60" font-size="7.5" fill="#333" textLength="19.79" lengthAdjust="spacingAndGlyphs">-0.20</text>
<rect x="632.40" y="405.30" width="10.50" height="4.90" fill="#c0c0c0" stroke="#333" stroke-width="0.9"/>
<line x1="637.65" y1="402.6" x2="637.65" y2="413.8" stroke="#222" stroke-width="1.0"/>
<line x1="636.25" y1="402.6" x2="639.05" y2="402.6" stroke="#222" stroke-width="1.0"/>
<line x1="636.25" y1="413.8" x2="639.05" y2="413.8" stroke="#222" stroke-width="1.0"/>
<line x1="637.75" y1="405.3" x2="637.75" y2="401.3" stroke="#333" stroke-width="1.0"/>
<rect x="658.20" y="405.30" width="10.50" height="17.60" fill="#c0c0c0" stroke="#333" stroke-width="0.9"/>
<line x1="663.45" y1="418.3" x2="663.45" y2="426.5" stroke="#222" stroke-width="1.0"/>
<line x1="662.0500000000001" y1="418.3" x2="664.85" y2="418.3" stroke="#222" stroke-width="1.0"/>
<line x1="662.0500000000001" y1="426.5" x2="664.85" y2="426.5" stroke="#222" stroke-width="1.0"/>
<line x1="663.35" y1="405.3" x2="663.35" y2="401.3" stroke="#333" stroke-width="1.0"/>
<rect x="684.00" y="405.30" width="10.50" height="32.10" fill="#c0c0c0" stroke="#333" stroke-width="0.9"/>
<line x1="689.25" y1="435.0" x2="689.25" y2="440.4" stroke="#222" stroke-width="1.0"/>
<line x1="687.85" y1="435.0" x2="690.65" y2="435.0" stroke="#222" stroke-width="1.0"/>
<line x1="687.85" y1="440.4" x2="690.65" y2="440.4" stroke="#222" stroke-width="1.0"/>
<line x1="688.85" y1="405.3" x2="688.85" y2="401.3" stroke="#333" stroke-width="1.0"/>
<rect x="709.60" y="405.30" width="10.50" height="10.90" fill="#c0c0c0" stroke="#333" stroke-width="0.9"/>
<line x1="714.85" y1="413.2" x2="714.85" y2="419.2" stroke="#222" stroke-width="1.0"/>
<line x1="713.45" y1="413.2" x2="716.25" y2="413.2" stroke="#222" stroke-width="1.0"/>
<line x1="713.45" y1="419.2" x2="716.25" y2="419.2" stroke="#222" stroke-width="1.0"/>
<line x1="714.65" y1="405.3" x2="714.65" y2="401.3" stroke="#333" stroke-width="1.0"/>
<text x="590.30" y="450.00" font-size="9.7" fill="#333" text-anchor="middle" textLength="70.31" lengthAdjust="spacingAndGlyphs" transform="rotate(-90 590.30 450.00)">DMI_amplitude</text>
<polyline points="663.7,489.90000000000003 663.7,491.8 687.8,491.8 687.8,489.90000000000003" fill="none" stroke="#888" stroke-width="1.0"/>
<text x="672.62" y="499.80" font-size="8.1" fill="#444" textLength="6.54" lengthAdjust="spacingAndGlyphs">**</text>
<polyline points="691.5,489.90000000000003 691.5,491.8 715.6,491.8 715.6,489.90000000000003" fill="none" stroke="#999" stroke-width="1.0"/>
<text x="698.98" y="499.60" font-size="8.1" fill="#444" textLength="9.63" lengthAdjust="spacingAndGlyphs">***</text>
<polyline points="663.7,497.40000000000003 663.7,499.3 715.6,499.3 715.6,497.40000000000003" fill="none" stroke="#888" stroke-width="1.0"/>
<text x="684.76" y="508.30" font-size="8.0" fill="#444" textLength="8.85" lengthAdjust="spacingAndGlyphs">ns</text>
<text x="750.2" y="392.8" font-size="11.5" text-anchor="middle" fill="#333" transform="rotate(90 750.2 392.8)">Monkey N</text>
</g></svg></body></html>
